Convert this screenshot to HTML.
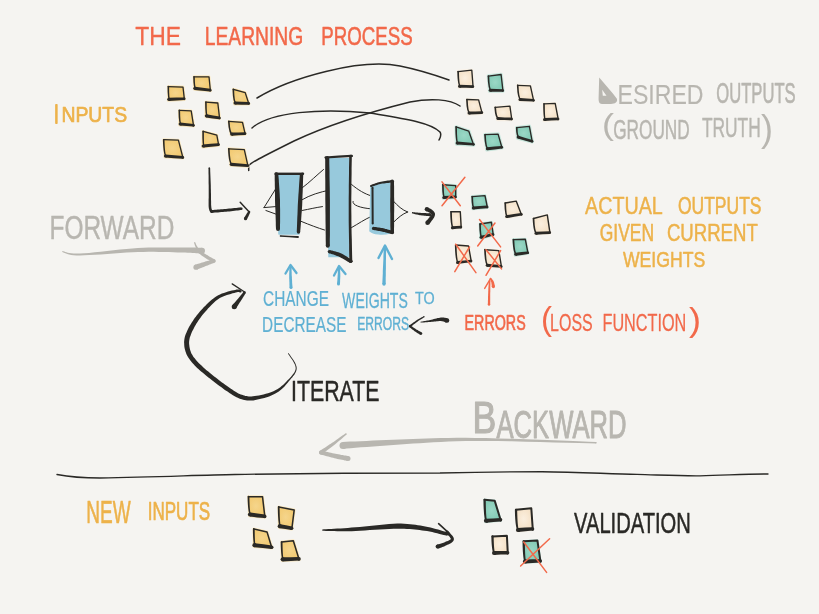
<!DOCTYPE html>
<html><head><meta charset="utf-8"><style>
html,body{margin:0;padding:0;background:#f5f4f1;}
body{width:819px;height:614px;overflow:hidden;}
svg{display:block;font-family:"Liberation Sans",sans-serif;will-change:transform;}
</style></head><body>
<svg width="819" height="614" viewBox="0 0 819 614">
<defs>
<radialGradient id="gOr" cx="0.45" cy="0.45" r="0.6"><stop offset="0" stop-color="#f5d58c"/><stop offset="1" stop-color="#f2ca72"/></radialGradient>
<radialGradient id="gTe" cx="0.45" cy="0.45" r="0.6"><stop offset="0" stop-color="#9bd8c6"/><stop offset="1" stop-color="#84cbb6"/></radialGradient>
<radialGradient id="gPe" cx="0.45" cy="0.45" r="0.6"><stop offset="0" stop-color="#fbefdf"/><stop offset="1" stop-color="#f5e2c8"/></radialGradient>
</defs>
<rect width="819" height="614" fill="#f5f4f1"/>
<text x="135.2" y="44.8" font-size="26.4" textLength="45.7" lengthAdjust="spacingAndGlyphs" fill="#f2694a" font-weight="normal" stroke="#f2694a" stroke-width="0.34" stroke-linejoin="round" >THE</text>
<text x="204.7" y="44.7" font-size="26.1" textLength="98.6" lengthAdjust="spacingAndGlyphs" fill="#f2694a" font-weight="normal" stroke="#f2694a" stroke-width="0.54" stroke-linejoin="round" >LEARNING</text>
<text x="321.3" y="44.7" font-size="26.1" textLength="91.4" lengthAdjust="spacingAndGlyphs" fill="#f2694a" font-weight="normal" stroke="#f2694a" stroke-width="0.57" stroke-linejoin="round" >PROCESS</text>
<text x="54.6" y="122.7" font-size="26.6" textLength="3.8" lengthAdjust="spacingAndGlyphs" fill="#edb24a" font-weight="normal" stroke="#edb24a" stroke-width="2.2" stroke-linejoin="round" >I</text>
<text x="61.4" y="121.6" font-size="22.2" textLength="65.7" lengthAdjust="spacingAndGlyphs" fill="#edb24a" font-weight="normal" stroke="#edb24a" stroke-width="0.71" stroke-linejoin="round" >NPUTS</text>
<path d="M257,98 C290,78 360,58 400,66 C420,70 435,75 449,80" fill="none" stroke="#2a2926" stroke-width="1.5" stroke-linecap="round" stroke-linejoin="round"/>
<path d="M252,128 C270,112 320,108 370,113 C400,118 430,122 440,132 C442,135 440,138 439,140" fill="none" stroke="#2a2926" stroke-width="1.5" stroke-linecap="round" stroke-linejoin="round"/>
<path d="M248.7,170.6 L248.7,166 C250,163 260,158 294,141 C330,124 370,112 410,102 C430,98 450,99 460,106" fill="none" stroke="#2a2926" stroke-width="1.5" stroke-linecap="round" stroke-linejoin="round"/>
<path d="M168.3,98.3 L168.3,86.6 L183.0,87.1 L184.4,99.4" fill="none" stroke="#ffffff" stroke-opacity="0.6" stroke-width="3.6" stroke-linejoin="round" stroke-linecap="round"/>
<path d="M168.3,86.6 L183.0,87.1 L184.4,99.4 L168.3,100.3Z" fill="#f3cd7b" stroke="#f3cd7b" stroke-width="3" stroke-linejoin="round" opacity="0.45"/>
<path d="M169.5,87.6 L181.9,88.0 L183.1,98.5 L169.5,99.3Z" fill="url(#gOr)" stroke="url(#gOr)" stroke-width="3" stroke-linejoin="round"/>
<path d="M168.3,86.6 L183.0,87.1 L184.4,99.4" fill="none" stroke="#2a2926" stroke-width="1.3" stroke-linecap="round" stroke-linejoin="round"/>
<path d="M168.3,86.6 Q168.3,99.3 169.8,99.8" fill="none" stroke="#2a2926" stroke-width="1.6" stroke-linecap="round" stroke-linejoin="round"/>
<path d="M168.9,100.9 L176.6,100.5 L184.3,100.1 L184.1,97.4 L176.4,97.6 L168.7,97.7Z" fill="#2a2926"/>
<circle cx="168.8" cy="99.3" r="1.60" fill="#2a2926"/>
<circle cx="184.2" cy="98.8" r="1.36" fill="#2a2926"/>
<path d="M194.4,87.3 L194.0,76.8 L209.0,76.8 L210.4,90.8" fill="none" stroke="#ffffff" stroke-opacity="0.6" stroke-width="3.6" stroke-linejoin="round" stroke-linecap="round"/>
<path d="M194.0,76.8 L209.0,76.8 L210.4,90.8 L194.4,89.3Z" fill="#f3cd7b" stroke="#f3cd7b" stroke-width="3" stroke-linejoin="round" opacity="0.45"/>
<path d="M195.2,77.8 L207.9,77.8 L209.1,89.7 L195.5,88.4Z" fill="url(#gOr)" stroke="url(#gOr)" stroke-width="3" stroke-linejoin="round"/>
<path d="M194.0,76.8 L209.0,76.8 L210.4,90.8" fill="none" stroke="#2a2926" stroke-width="1.3" stroke-linecap="round" stroke-linejoin="round"/>
<path d="M194.0,76.8 Q194.1,88.3 195.9,88.8" fill="none" stroke="#2a2926" stroke-width="1.6" stroke-linecap="round" stroke-linejoin="round"/>
<path d="M194.7,89.9 L202.4,90.7 L210.0,91.5 L210.4,88.8 L202.7,87.8 L195.1,86.8Z" fill="#2a2926"/>
<circle cx="194.9" cy="88.3" r="1.60" fill="#2a2926"/>
<circle cx="210.2" cy="90.2" r="1.36" fill="#2a2926"/>
<path d="M234.6,102.0 L233.3,89.3 L245.2,92.6 L248.9,104.0" fill="none" stroke="#ffffff" stroke-opacity="0.6" stroke-width="3.6" stroke-linejoin="round" stroke-linecap="round"/>
<path d="M233.3,89.3 L245.2,92.6 L248.9,104.0 L234.6,104.0Z" fill="#f3cd7b" stroke="#f3cd7b" stroke-width="3" stroke-linejoin="round" opacity="0.45"/>
<path d="M234.4,90.5 L244.5,93.3 L247.6,103.0 L235.4,103.0Z" fill="url(#gOr)" stroke="url(#gOr)" stroke-width="3" stroke-linejoin="round"/>
<path d="M233.3,89.3 L245.2,92.6 L248.9,104.0" fill="none" stroke="#2a2926" stroke-width="1.3" stroke-linecap="round" stroke-linejoin="round"/>
<path d="M233.3,89.3 Q233.7,103.0 236.1,103.5" fill="none" stroke="#2a2926" stroke-width="1.6" stroke-linecap="round" stroke-linejoin="round"/>
<path d="M235.0,104.6 L241.8,104.7 L248.7,104.7 L248.7,102.0 L241.9,101.7 L235.1,101.4Z" fill="#2a2926"/>
<circle cx="235.1" cy="103.0" r="1.60" fill="#2a2926"/>
<circle cx="248.7" cy="103.4" r="1.36" fill="#2a2926"/>
<path d="M205.9,114.8 L205.9,102.1 L217.8,103.0 L219.6,118.6" fill="none" stroke="#ffffff" stroke-opacity="0.6" stroke-width="3.6" stroke-linejoin="round" stroke-linecap="round"/>
<path d="M205.9,102.1 L217.8,103.0 L219.6,118.6 L205.9,116.8Z" fill="#f3cd7b" stroke="#f3cd7b" stroke-width="3" stroke-linejoin="round" opacity="0.45"/>
<path d="M206.9,103.3 L217.0,104.1 L218.5,117.3 L206.9,115.8Z" fill="url(#gOr)" stroke="url(#gOr)" stroke-width="3" stroke-linejoin="round"/>
<path d="M205.9,102.1 L217.8,103.0 L219.6,118.6" fill="none" stroke="#2a2926" stroke-width="1.3" stroke-linecap="round" stroke-linejoin="round"/>
<path d="M205.9,102.1 Q205.9,115.8 207.4,116.3" fill="none" stroke="#2a2926" stroke-width="1.6" stroke-linecap="round" stroke-linejoin="round"/>
<path d="M206.1,117.4 L212.7,118.4 L219.2,119.3 L219.6,116.6 L213.1,115.4 L206.7,114.3Z" fill="#2a2926"/>
<circle cx="206.4" cy="115.8" r="1.60" fill="#2a2926"/>
<circle cx="219.4" cy="118.0" r="1.36" fill="#2a2926"/>
<path d="M179.7,123.0 L179.3,110.4 L191.2,110.9 L193.6,125.9" fill="none" stroke="#ffffff" stroke-opacity="0.6" stroke-width="3.6" stroke-linejoin="round" stroke-linecap="round"/>
<path d="M179.3,110.4 L191.2,110.9 L193.6,125.9 L179.7,125.0Z" fill="#f3cd7b" stroke="#f3cd7b" stroke-width="3" stroke-linejoin="round" opacity="0.45"/>
<path d="M180.3,111.5 L190.4,112.0 L192.5,124.7 L180.6,124.0Z" fill="url(#gOr)" stroke="url(#gOr)" stroke-width="3" stroke-linejoin="round"/>
<path d="M179.3,110.4 L191.2,110.9 L193.6,125.9" fill="none" stroke="#2a2926" stroke-width="1.3" stroke-linecap="round" stroke-linejoin="round"/>
<path d="M179.3,110.4 Q179.4,124.0 181.2,124.5" fill="none" stroke="#2a2926" stroke-width="1.6" stroke-linecap="round" stroke-linejoin="round"/>
<path d="M180.1,125.6 L186.7,126.1 L193.3,126.6 L193.5,123.9 L186.9,123.2 L180.4,122.4Z" fill="#2a2926"/>
<circle cx="180.2" cy="124.0" r="1.60" fill="#2a2926"/>
<circle cx="193.4" cy="125.3" r="1.36" fill="#2a2926"/>
<path d="M231.2,133.1 L228.8,121.4 L242.5,122.3 L245.2,134.2" fill="none" stroke="#ffffff" stroke-opacity="0.6" stroke-width="3.6" stroke-linejoin="round" stroke-linecap="round"/>
<path d="M228.8,121.4 L242.5,122.3 L245.2,134.2 L231.2,135.1Z" fill="#f3cd7b" stroke="#f3cd7b" stroke-width="3" stroke-linejoin="round" opacity="0.45"/>
<path d="M230.0,122.4 L241.7,123.2 L244.0,133.3 L232.1,134.1Z" fill="url(#gOr)" stroke="url(#gOr)" stroke-width="3" stroke-linejoin="round"/>
<path d="M228.8,121.4 L242.5,122.3 L245.2,134.2" fill="none" stroke="#2a2926" stroke-width="1.3" stroke-linecap="round" stroke-linejoin="round"/>
<path d="M228.8,121.4 Q229.5,134.1 232.7,134.6" fill="none" stroke="#2a2926" stroke-width="1.6" stroke-linecap="round" stroke-linejoin="round"/>
<path d="M231.8,135.7 L238.4,135.3 L245.1,134.9 L244.9,132.2 L238.3,132.4 L231.7,132.5Z" fill="#2a2926"/>
<circle cx="231.7" cy="134.1" r="1.60" fill="#2a2926"/>
<circle cx="245.0" cy="133.6" r="1.36" fill="#2a2926"/>
<path d="M202.7,145.0 L203.1,131.4 L216.8,135.1 L218.7,145.2" fill="none" stroke="#ffffff" stroke-opacity="0.6" stroke-width="3.6" stroke-linejoin="round" stroke-linecap="round"/>
<path d="M203.1,131.4 L216.8,135.1 L218.7,145.2 L202.7,147.0Z" fill="#f3cd7b" stroke="#f3cd7b" stroke-width="3" stroke-linejoin="round" opacity="0.45"/>
<path d="M204.2,132.6 L215.8,135.8 L217.4,144.4 L203.8,145.9Z" fill="url(#gOr)" stroke="url(#gOr)" stroke-width="3" stroke-linejoin="round"/>
<path d="M203.1,131.4 L216.8,135.1 L218.7,145.2" fill="none" stroke="#2a2926" stroke-width="1.3" stroke-linecap="round" stroke-linejoin="round"/>
<path d="M203.1,131.4 Q203.0,146.0 204.2,146.5" fill="none" stroke="#2a2926" stroke-width="1.6" stroke-linecap="round" stroke-linejoin="round"/>
<path d="M203.3,147.6 L211.0,146.8 L218.6,145.9 L218.4,143.2 L210.7,143.8 L203.0,144.4Z" fill="#2a2926"/>
<circle cx="203.2" cy="146.0" r="1.60" fill="#2a2926"/>
<circle cx="218.5" cy="144.6" r="1.36" fill="#2a2926"/>
<path d="M165.0,155.0 L163.7,139.7 L178.4,140.2 L183.0,158.0" fill="none" stroke="#ffffff" stroke-opacity="0.6" stroke-width="3.6" stroke-linejoin="round" stroke-linecap="round"/>
<path d="M163.7,139.7 L178.4,140.2 L183.0,158.0 L165.0,157.0Z" fill="#f3cd7b" stroke="#f3cd7b" stroke-width="3" stroke-linejoin="round" opacity="0.45"/>
<path d="M165.0,141.1 L177.5,141.5 L181.4,156.6 L166.1,155.8Z" fill="url(#gOr)" stroke="url(#gOr)" stroke-width="3" stroke-linejoin="round"/>
<path d="M163.7,139.7 L178.4,140.2 L183.0,158.0" fill="none" stroke="#2a2926" stroke-width="1.3" stroke-linecap="round" stroke-linejoin="round"/>
<path d="M163.7,139.7 Q164.1,156.0 166.5,156.5" fill="none" stroke="#2a2926" stroke-width="1.6" stroke-linecap="round" stroke-linejoin="round"/>
<path d="M165.3,157.6 L174.0,158.2 L182.7,158.7 L182.9,156.0 L174.2,155.2 L165.6,154.4Z" fill="#2a2926"/>
<circle cx="165.5" cy="156.0" r="1.60" fill="#2a2926"/>
<circle cx="182.8" cy="157.4" r="1.36" fill="#2a2926"/>
<path d="M230.8,163.3 L228.8,148.8 L244.3,149.7 L248.0,166.2" fill="none" stroke="#ffffff" stroke-opacity="0.6" stroke-width="3.6" stroke-linejoin="round" stroke-linecap="round"/>
<path d="M228.8,148.8 L244.3,149.7 L248.0,166.2 L230.8,165.3Z" fill="#f3cd7b" stroke="#f3cd7b" stroke-width="3" stroke-linejoin="round" opacity="0.45"/>
<path d="M230.2,150.1 L243.4,150.9 L246.5,164.9 L231.9,164.1Z" fill="url(#gOr)" stroke="url(#gOr)" stroke-width="3" stroke-linejoin="round"/>
<path d="M228.8,148.8 L244.3,149.7 L248.0,166.2" fill="none" stroke="#2a2926" stroke-width="1.3" stroke-linecap="round" stroke-linejoin="round"/>
<path d="M228.8,148.8 Q229.4,164.3 232.3,164.8" fill="none" stroke="#2a2926" stroke-width="1.6" stroke-linecap="round" stroke-linejoin="round"/>
<path d="M231.2,165.9 L239.5,166.4 L247.7,166.9 L247.9,164.2 L239.7,163.5 L231.4,162.7Z" fill="#2a2926"/>
<circle cx="231.3" cy="164.3" r="1.60" fill="#2a2926"/>
<circle cx="247.8" cy="165.6" r="1.36" fill="#2a2926"/>
<path d="M459.0,85.2 L458.1,71.6 L471.8,70.2 L473.1,87.2" fill="none" stroke="#ffffff" stroke-opacity="0.6" stroke-width="3.6" stroke-linejoin="round" stroke-linecap="round"/>
<path d="M458.1,71.6 L471.8,70.2 L473.1,87.2 L459.0,87.2Z" fill="#f8e8d2" stroke="#f8e8d2" stroke-width="3.5" stroke-linejoin="round" opacity="0.45"/>
<path d="M459.6,73.1 L470.5,72.0 L471.6,85.6 L460.3,85.6Z" fill="url(#gPe)" stroke="url(#gPe)" stroke-width="3" stroke-linejoin="round"/>
<path d="M458.1,71.6 L471.8,70.2 L473.1,87.2" fill="none" stroke="#2a2926" stroke-width="1.35" stroke-linecap="round" stroke-linejoin="round"/>
<path d="M458.1,71.6 Q458.4,86.2 460.5,86.7" fill="none" stroke="#2a2926" stroke-width="1.6500000000000001" stroke-linecap="round" stroke-linejoin="round"/>
<path d="M459.4,87.8 L466.1,87.8 L472.9,87.9 L472.9,85.3 L466.2,85.1 L459.5,84.8Z" fill="#2a2926"/>
<circle cx="459.5" cy="86.3" r="1.50" fill="#2a2926"/>
<circle cx="472.9" cy="86.6" r="1.27" fill="#2a2926"/>
<path d="M489.7,89.1 L488.4,76.1 L501.1,74.5 L503.0,91.1" fill="none" stroke="#ffffff" stroke-opacity="0.6" stroke-width="3.6" stroke-linejoin="round" stroke-linecap="round"/>
<path d="M488.4,76.1 L501.1,74.5 L503.0,91.1 L489.7,91.1Z" fill="#8dd0bd" stroke="#8dd0bd" stroke-width="3.5" stroke-linejoin="round" opacity="0.45"/>
<path d="M489.8,77.5 L500.0,76.2 L501.5,89.5 L490.9,89.5Z" fill="url(#gTe)" stroke="url(#gTe)" stroke-width="3" stroke-linejoin="round"/>
<path d="M488.4,76.1 L501.1,74.5 L503.0,91.1" fill="none" stroke="#2a2926" stroke-width="1.35" stroke-linecap="round" stroke-linejoin="round"/>
<path d="M488.4,76.1 Q488.8,90.1 491.2,90.6" fill="none" stroke="#2a2926" stroke-width="1.6500000000000001" stroke-linecap="round" stroke-linejoin="round"/>
<path d="M490.2,91.7 L496.5,91.7 L502.8,91.8 L502.8,89.2 L496.5,89.0 L490.2,88.7Z" fill="#2a2926"/>
<circle cx="490.2" cy="90.2" r="1.50" fill="#2a2926"/>
<circle cx="502.8" cy="90.5" r="1.27" fill="#2a2926"/>
<path d="M519.5,98.3 L517.7,85.3 L530.4,85.9 L533.7,100.9" fill="none" stroke="#ffffff" stroke-opacity="0.6" stroke-width="3.6" stroke-linejoin="round" stroke-linecap="round"/>
<path d="M517.7,85.3 L530.4,85.9 L533.7,100.9 L519.5,100.3Z" fill="#f8e8d2" stroke="#f8e8d2" stroke-width="3.5" stroke-linejoin="round" opacity="0.45"/>
<path d="M519.2,86.9 L529.4,87.3 L532.0,99.3 L520.6,98.9Z" fill="url(#gPe)" stroke="url(#gPe)" stroke-width="3" stroke-linejoin="round"/>
<path d="M517.7,85.3 L530.4,85.9 L533.7,100.9" fill="none" stroke="#2a2926" stroke-width="1.35" stroke-linecap="round" stroke-linejoin="round"/>
<path d="M517.7,85.3 Q518.2,99.3 521.0,99.8" fill="none" stroke="#2a2926" stroke-width="1.6500000000000001" stroke-linecap="round" stroke-linejoin="round"/>
<path d="M519.9,100.9 L526.6,101.2 L533.4,101.6 L533.6,99.0 L526.8,98.5 L520.1,97.9Z" fill="#2a2926"/>
<circle cx="520.0" cy="99.4" r="1.50" fill="#2a2926"/>
<circle cx="533.5" cy="100.3" r="1.27" fill="#2a2926"/>
<path d="M468.5,112.0 L466.9,99.5 L478.6,99.9 L482.1,113.2" fill="none" stroke="#ffffff" stroke-opacity="0.6" stroke-width="3.6" stroke-linejoin="round" stroke-linecap="round"/>
<path d="M466.9,99.5 L478.6,99.9 L482.1,113.2 L468.5,114.0Z" fill="#f8e8d2" stroke="#f8e8d2" stroke-width="3.5" stroke-linejoin="round" opacity="0.45"/>
<path d="M468.3,100.9 L477.7,101.2 L480.5,111.9 L469.6,112.5Z" fill="url(#gPe)" stroke="url(#gPe)" stroke-width="3" stroke-linejoin="round"/>
<path d="M466.9,99.5 L478.6,99.9 L482.1,113.2" fill="none" stroke="#2a2926" stroke-width="1.35" stroke-linecap="round" stroke-linejoin="round"/>
<path d="M466.9,99.5 Q467.4,113.0 470.0,113.5" fill="none" stroke="#2a2926" stroke-width="1.6500000000000001" stroke-linecap="round" stroke-linejoin="round"/>
<path d="M469.0,114.6 L475.5,114.2 L481.9,113.9 L481.9,111.3 L475.4,111.5 L468.9,111.6Z" fill="#2a2926"/>
<circle cx="469.0" cy="113.1" r="1.50" fill="#2a2926"/>
<circle cx="481.9" cy="112.6" r="1.27" fill="#2a2926"/>
<path d="M497.4,117.5 L495.2,107.4 L509.9,106.2 L511.8,119.5" fill="none" stroke="#ffffff" stroke-opacity="0.6" stroke-width="3.6" stroke-linejoin="round" stroke-linecap="round"/>
<path d="M495.2,107.4 L509.9,106.2 L511.8,119.5 L497.4,119.5Z" fill="#f8e8d2" stroke="#f8e8d2" stroke-width="3.5" stroke-linejoin="round" opacity="0.45"/>
<path d="M496.9,108.6 L508.6,107.6 L510.2,118.2 L498.6,118.2Z" fill="url(#gPe)" stroke="url(#gPe)" stroke-width="3" stroke-linejoin="round"/>
<path d="M495.2,107.4 L509.9,106.2 L511.8,119.5" fill="none" stroke="#2a2926" stroke-width="1.35" stroke-linecap="round" stroke-linejoin="round"/>
<path d="M495.2,107.4 Q495.9,118.5 498.9,119.0" fill="none" stroke="#2a2926" stroke-width="1.6500000000000001" stroke-linecap="round" stroke-linejoin="round"/>
<path d="M497.9,120.1 L504.7,120.1 L511.6,120.2 L511.6,117.6 L504.8,117.4 L497.9,117.1Z" fill="#2a2926"/>
<circle cx="497.9" cy="118.6" r="1.50" fill="#2a2926"/>
<circle cx="511.6" cy="118.9" r="1.27" fill="#2a2926"/>
<path d="M544.0,118.4 L544.0,103.8 L555.2,103.4 L558.3,119.5" fill="none" stroke="#ffffff" stroke-opacity="0.6" stroke-width="3.6" stroke-linejoin="round" stroke-linecap="round"/>
<path d="M544.0,103.8 L555.2,103.4 L558.3,119.5 L544.0,120.4Z" fill="#f8e8d2" stroke="#f8e8d2" stroke-width="3.5" stroke-linejoin="round" opacity="0.45"/>
<path d="M545.3,105.4 L554.2,105.1 L556.7,118.0 L545.3,118.7Z" fill="url(#gPe)" stroke="url(#gPe)" stroke-width="3" stroke-linejoin="round"/>
<path d="M544.0,103.8 L555.2,103.4 L558.3,119.5" fill="none" stroke="#2a2926" stroke-width="1.35" stroke-linecap="round" stroke-linejoin="round"/>
<path d="M544.0,103.8 Q544.0,119.4 545.5,119.9" fill="none" stroke="#2a2926" stroke-width="1.6500000000000001" stroke-linecap="round" stroke-linejoin="round"/>
<path d="M544.6,121.0 L551.4,120.6 L558.2,120.2 L558.0,117.6 L551.2,117.8 L544.4,118.0Z" fill="#2a2926"/>
<circle cx="544.5" cy="119.5" r="1.50" fill="#2a2926"/>
<circle cx="558.1" cy="118.9" r="1.27" fill="#2a2926"/>
<path d="M456.6,141.9 L456.1,126.9 L468.8,131.2 L473.7,144.9" fill="none" stroke="#ffffff" stroke-opacity="0.6" stroke-width="3.6" stroke-linejoin="round" stroke-linecap="round"/>
<path d="M456.1,126.9 L468.8,131.2 L473.7,144.9 L456.6,143.9Z" fill="#8dd0bd" stroke="#8dd0bd" stroke-width="3.5" stroke-linejoin="round" opacity="0.45"/>
<path d="M457.6,128.9 L467.8,132.3 L471.7,143.3 L458.0,142.5Z" fill="url(#gTe)" stroke="url(#gTe)" stroke-width="3" stroke-linejoin="round"/>
<path d="M456.1,126.9 L468.8,131.2 L473.7,144.9" fill="none" stroke="#2a2926" stroke-width="1.35" stroke-linecap="round" stroke-linejoin="round"/>
<path d="M456.1,126.9 Q456.2,142.9 458.1,143.4" fill="none" stroke="#2a2926" stroke-width="1.6500000000000001" stroke-linecap="round" stroke-linejoin="round"/>
<path d="M456.9,144.5 L465.2,145.0 L473.4,145.6 L473.6,143.0 L465.4,142.3 L457.2,141.5Z" fill="#2a2926"/>
<circle cx="457.1" cy="143.0" r="1.50" fill="#2a2926"/>
<circle cx="473.5" cy="144.3" r="1.27" fill="#2a2926"/>
<path d="M486.9,147.7 L485.0,134.7 L498.1,134.1 L502.0,147.8" fill="none" stroke="#ffffff" stroke-opacity="0.6" stroke-width="3.6" stroke-linejoin="round" stroke-linecap="round"/>
<path d="M485.0,134.7 L498.1,134.1 L502.0,147.8 L486.9,149.7Z" fill="#8dd0bd" stroke="#8dd0bd" stroke-width="3.5" stroke-linejoin="round" opacity="0.45"/>
<path d="M486.6,136.1 L497.1,135.6 L500.2,146.6 L488.1,148.1Z" fill="url(#gTe)" stroke="url(#gTe)" stroke-width="3" stroke-linejoin="round"/>
<path d="M485.0,134.7 L498.1,134.1 L502.0,147.8" fill="none" stroke="#2a2926" stroke-width="1.35" stroke-linecap="round" stroke-linejoin="round"/>
<path d="M485.0,134.7 Q485.6,148.7 488.4,149.2" fill="none" stroke="#2a2926" stroke-width="1.6500000000000001" stroke-linecap="round" stroke-linejoin="round"/>
<path d="M487.6,150.3 L494.8,149.4 L501.9,148.5 L501.7,145.9 L494.5,146.6 L487.3,147.3Z" fill="#2a2926"/>
<circle cx="487.4" cy="148.8" r="1.50" fill="#2a2926"/>
<circle cx="501.8" cy="147.2" r="1.27" fill="#2a2926"/>
<path d="M517.6,136.0 L516.7,127.7 L529.4,126.3 L532.3,141.9" fill="none" stroke="#ffffff" stroke-opacity="0.6" stroke-width="3.6" stroke-linejoin="round" stroke-linecap="round"/>
<path d="M516.7,127.7 L529.4,126.3 L532.3,141.9 L517.6,138.0Z" fill="#8dd0bd" stroke="#8dd0bd" stroke-width="3.5" stroke-linejoin="round" opacity="0.45"/>
<path d="M518.2,128.9 L528.3,127.7 L530.6,140.2 L518.9,137.1Z" fill="url(#gTe)" stroke="url(#gTe)" stroke-width="3" stroke-linejoin="round"/>
<path d="M516.7,127.7 L529.4,126.3 L532.3,141.9" fill="none" stroke="#2a2926" stroke-width="1.35" stroke-linecap="round" stroke-linejoin="round"/>
<path d="M516.7,127.7 Q517.0,137.0 519.1,137.5" fill="none" stroke="#2a2926" stroke-width="1.6500000000000001" stroke-linecap="round" stroke-linejoin="round"/>
<path d="M517.7,138.5 L524.7,140.5 L531.7,142.5 L532.5,140.1 L525.5,137.9 L518.5,135.7Z" fill="#2a2926"/>
<circle cx="518.1" cy="137.1" r="1.50" fill="#2a2926"/>
<circle cx="532.1" cy="141.3" r="1.27" fill="#2a2926"/>
<path d="M599.2,77.4 C605,84 612,92 616.9,98.8 C618,102 615,104 611,104 L602,104 C599,104 598.5,101 598.6,98 Z M602.2,89.7 L606.5,95.8 L602.8,95.8 Z" fill="#b8b6b0" fill-rule="evenodd"/>
<text x="617.6" y="103.6" font-size="28.1" textLength="85.9" lengthAdjust="spacingAndGlyphs" fill="#b8b6b0" font-weight="normal" stroke="#b8b6b0" stroke-width="0.15" stroke-linejoin="round" >ESIRED</text>
<text x="716.3" y="103.4" font-size="29.6" textLength="79.4" lengthAdjust="spacingAndGlyphs" fill="#b8b6b0" font-weight="normal" stroke="#b8b6b0" stroke-width="0.63" stroke-linejoin="round" >OUTPUTS</text>
<text x="602.0" y="135.1" font-size="28.6" textLength="12.0" lengthAdjust="spacingAndGlyphs" fill="#b8b6b0" font-weight="normal" >(</text>
<text x="613.2" y="139.3" font-size="28.4" textLength="76.5" lengthAdjust="spacingAndGlyphs" fill="#b8b6b0" font-weight="normal" stroke="#b8b6b0" stroke-width="0.47" stroke-linejoin="round" >GROUND</text>
<text x="701.9" y="137.3" font-size="27.7" textLength="58.8" lengthAdjust="spacingAndGlyphs" fill="#b8b6b0" font-weight="normal" stroke="#b8b6b0" stroke-width="0.46" stroke-linejoin="round" >TRUTH</text>
<text x="761.0" y="141.3" font-size="37.2" textLength="12.0" lengthAdjust="spacingAndGlyphs" fill="#b8b6b0" font-weight="normal" >)</text>
<path d="M208.5,168.0 L208.5,169.4 L208.5,171.1 L208.5,173.2 L208.6,175.5 L208.6,178.0 L208.6,180.5 L208.6,183.1 L208.7,185.6 L208.7,187.9 L208.7,190.0 L208.7,192.0 L208.7,193.9 L208.7,195.9 L208.7,197.8 L208.6,199.6 L208.6,201.3 L208.6,203.0 L208.6,204.5 L208.6,205.9 L208.7,207.1 L208.8,208.2 L209.0,209.1 L209.2,209.8 L209.4,210.4 L209.6,211.0 L209.9,211.4 L210.1,211.7 L210.2,211.9 L210.3,212.0 L210.3,212.1 L212.9,210.9 L212.7,210.6 L212.5,210.3 L212.3,210.0 L212.1,209.9 L212.0,209.7 L211.8,209.4 L211.7,209.0 L211.5,208.5 L211.4,207.8 L211.3,206.9 L211.2,205.8 L211.1,204.4 L211.1,203.0 L211.1,201.3 L211.0,199.6 L211.0,197.8 L211.0,195.9 L211.0,193.9 L210.9,191.9 L210.9,190.0 L210.8,187.9 L210.8,185.5 L210.7,183.1 L210.6,180.5 L210.5,177.9 L210.4,175.4 L210.3,173.1 L210.2,171.1 L210.2,169.3 L210.1,168.0Z" fill="#2a2926"/>
<circle cx="209.3" cy="168.0" r="0.80" fill="#2a2926"/>
<circle cx="211.6" cy="211.5" r="1.40" fill="#2a2926"/>
<path d="M211.7,212.9 L212.6,212.8 L213.7,212.7 L214.9,212.6 L216.4,212.5 L218.0,212.4 L219.6,212.3 L221.3,212.1 L223.0,212.0 L224.6,211.8 L226.1,211.7 L227.7,211.5 L229.4,211.4 L231.1,211.2 L232.9,211.0 L234.7,210.8 L236.4,210.6 L237.9,210.4 L239.3,210.2 L240.5,210.1 L241.4,210.0 L241.2,207.4 L240.2,207.5 L239.1,207.6 L237.7,207.8 L236.1,207.9 L234.4,208.1 L232.6,208.3 L230.9,208.4 L229.1,208.6 L227.4,208.8 L225.9,208.9 L224.3,209.0 L222.7,209.2 L221.0,209.3 L219.4,209.5 L217.7,209.6 L216.2,209.7 L214.7,209.8 L213.4,209.9 L212.3,210.0 L211.5,210.1Z" fill="#2a2926"/>
<circle cx="211.6" cy="211.5" r="1.40" fill="#2a2926"/>
<circle cx="241.3" cy="208.7" r="1.30" fill="#2a2926"/>
<path d="M240.2,202.3 L249.2,211.9" fill="none" stroke="#2a2926" stroke-width="1.5" stroke-linecap="round" stroke-linejoin="round"/>
<path d="M248.2,211.4 L248.1,211.5 L248.0,211.8 L247.8,212.0 L247.6,212.3 L247.4,212.6 L247.2,213.0 L246.9,213.3 L246.7,213.6 L246.5,214.0 L246.3,214.3 L246.1,214.7 L245.8,215.1 L245.6,215.5 L245.3,215.9 L245.1,216.3 L244.8,216.7 L244.6,217.1 L244.4,217.4 L244.2,217.7 L244.1,217.9 L246.9,219.5 L247.0,219.2 L247.1,218.9 L247.3,218.6 L247.5,218.2 L247.7,217.8 L247.9,217.3 L248.1,216.9 L248.4,216.4 L248.6,216.0 L248.7,215.7 L248.9,215.3 L249.1,214.9 L249.2,214.6 L249.4,214.2 L249.6,213.8 L249.7,213.5 L249.9,213.2 L250.0,212.9 L250.1,212.6 L250.2,212.4Z" fill="#2a2926"/>
<circle cx="249.2" cy="211.9" r="1.10" fill="#2a2926"/>
<circle cx="245.5" cy="218.7" r="1.60" fill="#2a2926"/>
<path d="M264,207.6 L275.6,189 M264,207.6 L275.6,206.6 M265.9,210.5 L275.6,214" fill="none" stroke="#2a2926" stroke-width="1.0" stroke-linecap="round" stroke-linejoin="round"/>
<path d="M302,188 C310,182 318,174 323.5,169.5 M302,199.8 C310,195 320,192 330,190 M302,210.5 C310,209 316,207.5 322.5,206.6 M301,221.3 C310,225 318,228 324.5,230" fill="none" stroke="#2a2926" stroke-width="1.0" stroke-linecap="round" stroke-linejoin="round"/>
<path d="M351.5,184.4 C358,190 365,194 371,195.8 M353,201.5 C352,205 360,208 371.9,208.9 M351.5,227.6 C358,224 365,219 371.9,216.2" fill="none" stroke="#2a2926" stroke-width="1.0" stroke-linecap="round" stroke-linejoin="round"/>
<path d="M393,200.7 C398,206 402,210 407.7,212 M393.9,221.9 C398,218 402,214 407.7,212" fill="none" stroke="#2a2926" stroke-width="1.0" stroke-linecap="round" stroke-linejoin="round"/>
<path d="M277.6,175 L299,175 L299,234 L279,234 Z" fill="#97c9dc" stroke="#97c9dc" stroke-width="1.5" stroke-linejoin="round"/>
<path d="M327.4,158.8 L348.9,158.8 L348.9,256.4 L329,256.4 Z" fill="#97c9dc" stroke="#97c9dc" stroke-width="1.5"/>
<path d="M371,187 C377,184 385,182 389.8,182 L389.8,233 C383,235 373,234 370,231 Z" fill="#97c9dc" stroke="#97c9dc" stroke-width="1.5"/>
<path d="M275.6,175.0 L289.3,175.0 L303.0,175.0 L303.0,172.6 L289.3,172.6 L275.6,172.6Z" fill="#2a2926"/>
<circle cx="275.6" cy="173.8" r="1.20" fill="#2a2926"/>
<circle cx="303.0" cy="173.8" r="1.20" fill="#2a2926"/>
<path d="M274.7,174.1 L274.7,175.6 L274.7,177.6 L274.7,179.9 L274.8,182.5 L274.8,185.3 L274.9,188.2 L274.9,191.2 L275.0,194.3 L275.0,197.2 L275.0,200.1 L275.1,203.0 L275.2,206.1 L275.4,209.4 L275.5,212.8 L275.6,216.2 L275.7,219.4 L275.8,222.4 L275.8,225.0 L275.9,227.3 L276.0,229.0 L280.0,229.0 L280.0,227.2 L280.0,225.0 L280.1,222.3 L280.1,219.3 L280.1,216.1 L280.1,212.7 L280.1,209.4 L280.0,206.0 L280.0,202.9 L280.0,199.9 L279.8,197.1 L279.7,194.1 L279.5,191.1 L279.3,188.0 L279.1,185.1 L278.9,182.3 L278.8,179.7 L278.6,177.4 L278.4,175.5 L278.3,173.9Z" fill="#2a2926"/>
<circle cx="276.5" cy="174.0" r="1.80" fill="#2a2926"/>
<circle cx="278.0" cy="229.0" r="2.00" fill="#2a2926"/>
<path d="M299.8,174.3 L299.7,176.2 L299.5,178.5 L299.3,181.4 L299.1,184.5 L298.9,187.9 L298.7,191.5 L298.4,195.0 L298.2,198.5 L298.0,201.8 L297.8,204.9 L297.7,207.9 L297.6,210.9 L297.5,214.1 L297.3,217.2 L297.2,220.3 L297.1,223.2 L297.0,225.9 L296.9,228.3 L296.8,230.3 L296.8,231.9 L300.2,232.1 L300.3,230.5 L300.5,228.5 L300.7,226.1 L300.9,223.4 L301.1,220.5 L301.3,217.5 L301.5,214.3 L301.8,211.2 L302.0,208.1 L302.2,205.1 L302.3,202.1 L302.4,198.7 L302.5,195.2 L302.7,191.6 L302.8,188.1 L302.9,184.7 L303.0,181.5 L303.1,178.7 L303.2,176.3 L303.2,174.5Z" fill="#2a2926"/>
<circle cx="301.5" cy="174.4" r="1.70" fill="#2a2926"/>
<circle cx="298.5" cy="232.0" r="1.70" fill="#2a2926"/>
<path d="M280.5,236.8 L289.2,237.3 L297.9,237.9 L298.1,236.1 L289.3,235.7 L280.5,235.2Z" fill="#2a2926"/>
<circle cx="280.5" cy="236.0" r="0.80" fill="#2a2926"/>
<circle cx="298.0" cy="237.0" r="0.90" fill="#2a2926"/>
<path d="M325.5,158.4 L338.7,157.7 L351.9,157.1 L351.7,154.7 L338.5,155.6 L325.3,156.4Z" fill="#2a2926"/>
<circle cx="325.4" cy="157.4" r="1.00" fill="#2a2926"/>
<circle cx="351.8" cy="155.9" r="1.20" fill="#2a2926"/>
<path d="M325.2,158.0 L325.2,160.5 L325.2,163.7 L325.2,167.4 L325.2,171.6 L325.2,176.2 L325.3,180.9 L325.3,185.8 L325.3,190.7 L325.3,195.5 L325.3,200.0 L325.4,204.6 L325.4,209.6 L325.5,214.9 L325.5,220.2 L325.6,225.5 L325.6,230.5 L325.7,235.2 L325.7,239.4 L325.8,243.0 L325.8,245.7 L329.8,245.7 L329.8,243.0 L329.8,239.4 L329.9,235.2 L329.9,230.5 L329.9,225.5 L329.9,220.2 L329.9,214.9 L329.9,209.6 L329.9,204.6 L329.9,200.0 L329.8,195.4 L329.8,190.7 L329.7,185.8 L329.6,180.9 L329.5,176.1 L329.5,171.6 L329.4,167.4 L329.3,163.6 L329.3,160.5 L329.2,158.0Z" fill="#2a2926"/>
<circle cx="327.2" cy="158.0" r="2.00" fill="#2a2926"/>
<circle cx="327.8" cy="245.7" r="2.00" fill="#2a2926"/>
<path d="M349.2,156.0 L349.2,159.2 L349.1,163.4 L349.0,168.3 L349.0,173.8 L348.9,179.8 L348.8,186.0 L348.8,192.3 L348.7,198.5 L348.7,204.5 L348.7,210.0 L348.7,215.5 L348.7,221.3 L348.8,227.2 L348.9,233.2 L349.0,239.1 L349.1,244.6 L349.1,249.8 L349.2,254.4 L349.3,258.3 L349.3,261.3 L352.3,261.3 L352.2,258.2 L352.1,254.3 L352.0,249.7 L351.9,244.6 L351.8,239.0 L351.6,233.2 L351.5,227.2 L351.4,221.2 L351.4,215.5 L351.3,210.0 L351.3,204.5 L351.3,198.5 L351.4,192.3 L351.4,186.0 L351.5,179.8 L351.6,173.9 L351.6,168.3 L351.7,163.4 L351.8,159.2 L351.8,156.0Z" fill="#2a2926"/>
<circle cx="350.5" cy="156.0" r="1.30" fill="#2a2926"/>
<circle cx="350.8" cy="261.3" r="1.50" fill="#2a2926"/>
<path d="M328.8,253.1 L329.5,253.4 L330.3,253.6 L331.3,253.9 L332.3,254.3 L333.5,254.6 L334.7,255.0 L335.9,255.4 L337.0,255.9 L338.2,256.3 L339.2,256.8 L340.2,257.3 L341.4,257.9 L342.6,258.6 L343.8,259.3 L345.1,260.0 L346.3,260.7 L347.4,261.4 L348.4,262.0 L349.2,262.5 L349.9,262.8 L351.7,259.8 L351.1,259.4 L350.3,258.8 L349.3,258.2 L348.2,257.5 L347.1,256.7 L345.8,256.0 L344.5,255.2 L343.3,254.5 L342.0,253.8 L340.8,253.2 L339.6,252.7 L338.3,252.3 L337.0,251.9 L335.7,251.5 L334.5,251.2 L333.3,250.9 L332.2,250.6 L331.2,250.4 L330.4,250.2 L329.8,250.1Z" fill="#2a2926"/>
<circle cx="329.3" cy="251.6" r="1.60" fill="#2a2926"/>
<circle cx="350.8" cy="261.3" r="1.80" fill="#2a2926"/>
<path d="M371.3,186.9 L371.9,186.8 L372.5,186.5 L373.3,186.2 L374.1,185.9 L375.1,185.6 L376.1,185.2 L377.1,184.9 L378.1,184.5 L379.2,184.2 L380.2,184.0 L381.3,183.8 L382.6,183.6 L384.0,183.4 L385.4,183.2 L386.8,183.0 L388.2,182.9 L389.5,182.7 L390.6,182.6 L391.6,182.5 L392.4,182.4 L392.0,180.0 L391.3,180.1 L390.3,180.2 L389.2,180.4 L387.9,180.6 L386.5,180.8 L385.1,181.0 L383.6,181.3 L382.3,181.5 L381.0,181.8 L379.8,182.0 L378.7,182.3 L377.6,182.6 L376.5,183.0 L375.4,183.3 L374.4,183.7 L373.4,184.0 L372.6,184.3 L371.8,184.6 L371.2,184.9 L370.7,185.1Z" fill="#2a2926"/>
<circle cx="371.0" cy="186.0" r="1.00" fill="#2a2926"/>
<circle cx="392.2" cy="181.2" r="1.25" fill="#2a2926"/>
<path d="M371.5,187.7 L371.6,205.6 L371.7,223.5 L373.7,223.5 L373.6,205.6 L373.5,187.7Z" fill="#2a2926"/>
<circle cx="372.5" cy="187.7" r="1.00" fill="#2a2926"/>
<circle cx="372.7" cy="223.5" r="1.00" fill="#2a2926"/>
<path d="M390.4,181.2 L390.4,182.6 L390.4,184.4 L390.3,186.5 L390.3,188.8 L390.3,191.4 L390.3,194.1 L390.3,196.8 L390.2,199.6 L390.2,202.4 L390.2,205.0 L390.2,207.7 L390.2,210.7 L390.3,213.8 L390.3,217.1 L390.3,220.2 L390.3,223.3 L390.3,226.2 L390.4,228.7 L390.4,230.8 L390.4,232.5 L394.0,232.5 L394.0,230.8 L394.0,228.7 L394.1,226.2 L394.1,223.3 L394.1,220.2 L394.1,217.1 L394.1,213.8 L394.2,210.7 L394.2,207.7 L394.2,205.0 L394.2,202.4 L394.2,199.6 L394.1,196.8 L394.1,194.1 L394.1,191.4 L394.1,188.8 L394.1,186.5 L394.0,184.4 L394.0,182.6 L394.0,181.2Z" fill="#2a2926"/>
<circle cx="392.2" cy="181.2" r="1.80" fill="#2a2926"/>
<circle cx="392.2" cy="232.5" r="1.80" fill="#2a2926"/>
<path d="M373.2,230.0 L373.8,230.1 L374.6,230.2 L375.4,230.3 L376.4,230.5 L377.4,230.7 L378.5,230.9 L379.6,231.0 L380.7,231.2 L381.7,231.5 L382.6,231.7 L383.6,231.9 L384.6,232.1 L385.6,232.4 L386.7,232.7 L387.7,232.9 L388.7,233.2 L389.7,233.5 L390.5,233.7 L391.2,233.9 L391.8,234.0 L392.6,231.0 L392.1,230.8 L391.4,230.6 L390.6,230.3 L389.6,230.1 L388.6,229.8 L387.6,229.5 L386.5,229.1 L385.4,228.9 L384.4,228.6 L383.4,228.3 L382.3,228.1 L381.3,227.9 L380.2,227.8 L379.0,227.6 L377.9,227.4 L376.9,227.3 L375.9,227.1 L375.0,227.0 L374.3,226.9 L373.8,226.8Z" fill="#2a2926"/>
<circle cx="373.5" cy="228.4" r="1.60" fill="#2a2926"/>
<circle cx="392.2" cy="232.5" r="1.60" fill="#2a2926"/>
<path d="M411.9,213.3 L412.4,213.4 L412.9,213.6 L413.6,213.8 L414.4,214.0 L415.2,214.2 L416.1,214.4 L417.0,214.6 L418.0,214.8 L418.9,215.0 L419.9,215.2 L420.8,215.3 L421.9,215.5 L423.1,215.6 L424.2,215.7 L425.4,215.8 L426.5,215.9 L427.6,216.0 L428.5,216.1 L429.3,216.2 L429.9,216.3 L430.1,213.3 L429.5,213.3 L428.7,213.3 L427.8,213.2 L426.7,213.2 L425.6,213.1 L424.4,213.1 L423.3,213.0 L422.1,212.9 L421.1,212.9 L420.1,212.8 L419.2,212.8 L418.3,212.7 L417.4,212.6 L416.4,212.5 L415.5,212.4 L414.7,212.3 L413.9,212.2 L413.2,212.2 L412.6,212.1 L412.1,212.1Z" fill="#2a2926"/>
<circle cx="430.0" cy="214.8" r="1.50" fill="#2a2926"/>
<path d="M425.8,211.1 L426.2,211.2 L426.6,211.4 L427.1,211.6 L427.6,211.8 L428.2,212.1 L428.7,212.3 L429.2,212.6 L429.6,212.8 L430.0,213.0 L430.2,213.2 L430.5,213.5 L430.8,213.7 L431.0,214.0 L431.2,214.1 L431.3,214.3 L431.3,214.4 L431.4,214.4 L431.4,214.5 L431.4,214.6 L431.3,214.9 L431.1,215.2 L430.7,215.8 L430.1,216.5 L429.5,217.3 L428.8,218.1 L428.1,218.9 L427.4,219.7 L426.7,220.4 L426.2,221.0 L425.8,221.4 L429.2,224.2 L429.5,223.7 L430.0,223.1 L430.6,222.4 L431.2,221.5 L431.9,220.6 L432.6,219.7 L433.2,218.8 L433.8,217.9 L434.3,217.0 L434.7,216.1 L434.9,215.3 L435.0,214.5 L435.0,213.8 L434.8,213.1 L434.5,212.4 L434.2,211.9 L433.8,211.5 L433.5,211.1 L433.1,210.8 L432.8,210.4 L432.3,210.0 L431.7,209.5 L431.2,209.2 L430.5,208.8 L429.9,208.5 L429.4,208.2 L428.8,207.9 L428.4,207.7 L428.0,207.5 L427.8,207.3Z" fill="#2a2926"/>
<circle cx="426.8" cy="209.2" r="2.10" fill="#2a2926"/>
<circle cx="427.5" cy="222.8" r="2.20" fill="#2a2926"/>
<path d="M443.3,196.4 L442.9,184.7 L455.7,185.6 L455.7,197.5" fill="none" stroke="#ffffff" stroke-opacity="0.6" stroke-width="3.6" stroke-linejoin="round" stroke-linecap="round"/>
<path d="M442.9,184.7 L455.7,185.6 L455.7,197.5 L443.3,198.4Z" fill="#8dd0bd" stroke="#8dd0bd" stroke-width="3.0" stroke-linejoin="round" opacity="0.45"/>
<path d="M444.2,186.1 L454.4,186.8 L454.4,196.3 L444.5,197.0Z" fill="url(#gTe)" stroke="url(#gTe)" stroke-width="3" stroke-linejoin="round"/>
<path d="M442.9,184.7 L455.7,185.6 L455.7,197.5" fill="none" stroke="#2a2926" stroke-width="1.4" stroke-linecap="round" stroke-linejoin="round"/>
<path d="M442.9,184.7 Q443.0,197.4 444.8,197.9" fill="none" stroke="#2a2926" stroke-width="1.7" stroke-linecap="round" stroke-linejoin="round"/>
<path d="M443.9,199.0 L449.7,198.6 L455.6,198.2 L455.4,195.6 L449.6,195.8 L443.7,196.0Z" fill="#2a2926"/>
<circle cx="443.8" cy="197.5" r="1.50" fill="#2a2926"/>
<circle cx="455.5" cy="196.9" r="1.27" fill="#2a2926"/>
<path d="M442,181.9 L460.3,205.7 M464.9,177.3 L442,205.7" fill="none" stroke="#f2694a" stroke-width="1.5" stroke-linecap="round" stroke-linejoin="round"/>
<path d="M472.8,206.8 L472.2,196.6 L485.0,195.6 L487.4,207.5" fill="none" stroke="#ffffff" stroke-opacity="0.6" stroke-width="3.6" stroke-linejoin="round" stroke-linecap="round"/>
<path d="M472.2,196.6 L485.0,195.6 L487.4,207.5 L472.8,208.8Z" fill="#8dd0bd" stroke="#8dd0bd" stroke-width="3.0" stroke-linejoin="round" opacity="0.45"/>
<path d="M473.6,197.7 L483.9,196.9 L485.8,206.4 L474.1,207.5Z" fill="url(#gTe)" stroke="url(#gTe)" stroke-width="3" stroke-linejoin="round"/>
<path d="M472.2,196.6 L485.0,195.6 L487.4,207.5" fill="none" stroke="#2a2926" stroke-width="1.4" stroke-linecap="round" stroke-linejoin="round"/>
<path d="M472.2,196.6 Q472.4,207.8 474.3,208.3" fill="none" stroke="#2a2926" stroke-width="1.7" stroke-linecap="round" stroke-linejoin="round"/>
<path d="M473.4,209.4 L480.3,208.8 L487.3,208.2 L487.1,205.6 L480.1,206.0 L473.2,206.4Z" fill="#2a2926"/>
<circle cx="473.3" cy="207.9" r="1.50" fill="#2a2926"/>
<circle cx="487.2" cy="206.9" r="1.27" fill="#2a2926"/>
<path d="M506.2,215.5 L505.2,203.0 L516.2,201.1 L521.6,214.9" fill="none" stroke="#ffffff" stroke-opacity="0.6" stroke-width="3.6" stroke-linejoin="round" stroke-linecap="round"/>
<path d="M505.2,203.0 L516.2,201.1 L521.6,214.9 L506.2,217.5Z" fill="#f8e8d2" stroke="#f8e8d2" stroke-width="3.0" stroke-linejoin="round" opacity="0.45"/>
<path d="M506.6,204.2 L515.4,202.7 L519.7,213.7 L507.4,215.8Z" fill="url(#gPe)" stroke="url(#gPe)" stroke-width="3" stroke-linejoin="round"/>
<path d="M505.2,203.0 L516.2,201.1 L521.6,214.9" fill="none" stroke="#2a2926" stroke-width="1.4" stroke-linecap="round" stroke-linejoin="round"/>
<path d="M505.2,203.0 Q505.5,216.5 507.7,217.0" fill="none" stroke="#2a2926" stroke-width="1.7" stroke-linecap="round" stroke-linejoin="round"/>
<path d="M507.0,218.1 L514.3,216.8 L521.6,215.6 L521.2,213.0 L513.9,214.1 L506.5,215.1Z" fill="#2a2926"/>
<circle cx="506.7" cy="216.6" r="1.50" fill="#2a2926"/>
<circle cx="521.4" cy="214.3" r="1.27" fill="#2a2926"/>
<path d="M451.9,226.6 L451.0,211.8 L460.3,211.8 L461.2,227.7" fill="none" stroke="#ffffff" stroke-opacity="0.6" stroke-width="3.6" stroke-linejoin="round" stroke-linecap="round"/>
<path d="M451.0,211.8 L460.3,211.8 L461.2,227.7 L451.9,228.6Z" fill="#f8e8d2" stroke="#f8e8d2" stroke-width="3.0" stroke-linejoin="round" opacity="0.45"/>
<path d="M452.0,213.4 L459.5,213.4 L460.2,226.2 L452.7,226.9Z" fill="url(#gPe)" stroke="url(#gPe)" stroke-width="3" stroke-linejoin="round"/>
<path d="M451.0,211.8 L460.3,211.8 L461.2,227.7" fill="none" stroke="#2a2926" stroke-width="1.4" stroke-linecap="round" stroke-linejoin="round"/>
<path d="M451.0,211.8 Q451.3,227.6 453.4,228.1" fill="none" stroke="#2a2926" stroke-width="1.7" stroke-linecap="round" stroke-linejoin="round"/>
<path d="M452.5,229.2 L456.8,228.8 L461.1,228.4 L460.9,225.8 L456.6,226.0 L452.3,226.2Z" fill="#2a2926"/>
<circle cx="452.4" cy="227.7" r="1.50" fill="#2a2926"/>
<circle cx="461.0" cy="227.1" r="1.27" fill="#2a2926"/>
<path d="M480.6,236.2 L480.0,224.0 L491.4,222.2 L493.3,235.0" fill="none" stroke="#ffffff" stroke-opacity="0.6" stroke-width="3.6" stroke-linejoin="round" stroke-linecap="round"/>
<path d="M480.0,224.0 L491.4,222.2 L493.3,235.0 L480.6,238.2Z" fill="#8dd0bd" stroke="#8dd0bd" stroke-width="3.0" stroke-linejoin="round" opacity="0.45"/>
<path d="M481.3,225.2 L490.4,223.7 L491.9,234.0 L481.8,236.5Z" fill="url(#gTe)" stroke="url(#gTe)" stroke-width="3" stroke-linejoin="round"/>
<path d="M480.0,224.0 L491.4,222.2 L493.3,235.0" fill="none" stroke="#2a2926" stroke-width="1.4" stroke-linecap="round" stroke-linejoin="round"/>
<path d="M480.0,224.0 Q480.2,237.2 482.1,237.7" fill="none" stroke="#2a2926" stroke-width="1.7" stroke-linecap="round" stroke-linejoin="round"/>
<path d="M481.5,238.8 L487.4,237.2 L493.4,235.6 L492.8,233.2 L486.8,234.5 L480.8,235.8Z" fill="#2a2926"/>
<circle cx="481.1" cy="237.3" r="1.50" fill="#2a2926"/>
<circle cx="493.1" cy="234.4" r="1.27" fill="#2a2926"/>
<path d="M479.5,219.5 L500.6,246.9 M495,223 L477.7,246" fill="none" stroke="#f2694a" stroke-width="1.5" stroke-linecap="round" stroke-linejoin="round"/>
<path d="M535.5,232.1 L533.5,218.5 L547.3,214.9 L550.0,233.2" fill="none" stroke="#ffffff" stroke-opacity="0.6" stroke-width="3.6" stroke-linejoin="round" stroke-linecap="round"/>
<path d="M533.5,218.5 L547.3,214.9 L550.0,233.2 L535.5,234.1Z" fill="#f8e8d2" stroke="#f8e8d2" stroke-width="3.0" stroke-linejoin="round" opacity="0.45"/>
<path d="M535.1,219.8 L546.2,217.0 L548.3,231.6 L536.7,232.3Z" fill="url(#gPe)" stroke="url(#gPe)" stroke-width="3" stroke-linejoin="round"/>
<path d="M533.5,218.5 L547.3,214.9 L550.0,233.2" fill="none" stroke="#2a2926" stroke-width="1.4" stroke-linecap="round" stroke-linejoin="round"/>
<path d="M533.5,218.5 Q534.1,233.1 537.0,233.6" fill="none" stroke="#2a2926" stroke-width="1.7" stroke-linecap="round" stroke-linejoin="round"/>
<path d="M536.1,234.7 L543.0,234.3 L549.9,233.9 L549.7,231.3 L542.9,231.5 L536.0,231.7Z" fill="#2a2926"/>
<circle cx="536.0" cy="233.2" r="1.50" fill="#2a2926"/>
<circle cx="549.8" cy="232.6" r="1.27" fill="#2a2926"/>
<path d="M515.2,253.2 L513.4,239.6 L525.3,239.2 L528.0,253.3" fill="none" stroke="#ffffff" stroke-opacity="0.6" stroke-width="3.6" stroke-linejoin="round" stroke-linecap="round"/>
<path d="M513.4,239.6 L525.3,239.2 L528.0,253.3 L515.2,255.2Z" fill="#8dd0bd" stroke="#8dd0bd" stroke-width="3.0" stroke-linejoin="round" opacity="0.45"/>
<path d="M514.8,241.0 L524.3,240.7 L526.5,252.0 L516.3,253.5Z" fill="url(#gTe)" stroke="url(#gTe)" stroke-width="3" stroke-linejoin="round"/>
<path d="M513.4,239.6 L525.3,239.2 L528.0,253.3" fill="none" stroke="#2a2926" stroke-width="1.4" stroke-linecap="round" stroke-linejoin="round"/>
<path d="M513.4,239.6 Q514.0,254.2 516.7,254.7" fill="none" stroke="#2a2926" stroke-width="1.7" stroke-linecap="round" stroke-linejoin="round"/>
<path d="M515.9,255.8 L522.0,254.9 L528.0,254.0 L527.6,251.4 L521.6,252.1 L515.5,252.8Z" fill="#2a2926"/>
<circle cx="515.7" cy="254.3" r="1.50" fill="#2a2926"/>
<circle cx="527.8" cy="252.7" r="1.27" fill="#2a2926"/>
<path d="M457.0,261.4 L455.7,245.0 L468.5,246.0 L471.3,261.6" fill="none" stroke="#ffffff" stroke-opacity="0.6" stroke-width="3.6" stroke-linejoin="round" stroke-linecap="round"/>
<path d="M455.7,245.0 L468.5,246.0 L471.3,261.6 L457.0,263.4Z" fill="#f8e8d2" stroke="#f8e8d2" stroke-width="3.0" stroke-linejoin="round" opacity="0.45"/>
<path d="M457.2,246.8 L467.4,247.6 L469.7,260.1 L458.2,261.5Z" fill="url(#gPe)" stroke="url(#gPe)" stroke-width="3" stroke-linejoin="round"/>
<path d="M455.7,245.0 L468.5,246.0 L471.3,261.6" fill="none" stroke="#2a2926" stroke-width="1.4" stroke-linecap="round" stroke-linejoin="round"/>
<path d="M455.7,245.0 Q456.1,262.4 458.5,262.9" fill="none" stroke="#2a2926" stroke-width="1.7" stroke-linecap="round" stroke-linejoin="round"/>
<path d="M457.6,264.0 L464.4,263.1 L471.2,262.3 L471.0,259.7 L464.1,260.4 L457.3,261.0Z" fill="#2a2926"/>
<circle cx="457.5" cy="262.5" r="1.50" fill="#2a2926"/>
<circle cx="471.1" cy="261.0" r="1.27" fill="#2a2926"/>
<path d="M455.7,244.2 L475.9,272.6 M469.5,247 L454.8,271.6" fill="none" stroke="#f2694a" stroke-width="1.5" stroke-linecap="round" stroke-linejoin="round"/>
<path d="M486.7,264.2 L485.0,249.7 L498.8,250.6 L501.5,267.0" fill="none" stroke="#ffffff" stroke-opacity="0.6" stroke-width="3.6" stroke-linejoin="round" stroke-linecap="round"/>
<path d="M485.0,249.7 L498.8,250.6 L501.5,267.0 L486.7,266.2Z" fill="#f8e8d2" stroke="#f8e8d2" stroke-width="3.0" stroke-linejoin="round" opacity="0.45"/>
<path d="M486.6,251.4 L497.6,252.2 L499.8,265.3 L487.9,264.6Z" fill="url(#gPe)" stroke="url(#gPe)" stroke-width="3" stroke-linejoin="round"/>
<path d="M485.0,249.7 L498.8,250.6 L501.5,267.0" fill="none" stroke="#2a2926" stroke-width="1.4" stroke-linecap="round" stroke-linejoin="round"/>
<path d="M485.0,249.7 Q485.5,265.2 488.2,265.7" fill="none" stroke="#2a2926" stroke-width="1.7" stroke-linecap="round" stroke-linejoin="round"/>
<path d="M487.0,266.8 L494.1,267.2 L501.2,267.7 L501.4,265.1 L494.3,264.5 L487.3,263.8Z" fill="#2a2926"/>
<circle cx="487.2" cy="265.3" r="1.50" fill="#2a2926"/>
<circle cx="501.3" cy="266.4" r="1.27" fill="#2a2926"/>
<path d="M486,249.7 L501.5,268.9 M500.6,250.6 L486,275.3" fill="none" stroke="#f2694a" stroke-width="1.5" stroke-linecap="round" stroke-linejoin="round"/>
<text x="585.0" y="214.3" font-size="24.1" textLength="77.8" lengthAdjust="spacingAndGlyphs" fill="#edb24a" font-weight="normal" stroke="#edb24a" stroke-width="0.45" stroke-linejoin="round" >ACTUAL</text>
<text x="677.9" y="214.2" font-size="23.9" textLength="83.6" lengthAdjust="spacingAndGlyphs" fill="#edb24a" font-weight="normal" stroke="#edb24a" stroke-width="0.58" stroke-linejoin="round" >OUTPUTS</text>
<text x="599.7" y="240.7" font-size="23.9" textLength="54.4" lengthAdjust="spacingAndGlyphs" fill="#edb24a" font-weight="normal" stroke="#edb24a" stroke-width="0.57" stroke-linejoin="round" >GIVEN</text>
<text x="666.9" y="240.7" font-size="24.0" textLength="90.9" lengthAdjust="spacingAndGlyphs" fill="#edb24a" font-weight="normal" stroke="#edb24a" stroke-width="0.52" stroke-linejoin="round" >CURRENT</text>
<text x="622.9" y="267.2" font-size="22.4" textLength="82.4" lengthAdjust="spacingAndGlyphs" fill="#edb24a" font-weight="normal" stroke="#edb24a" stroke-width="0.57" stroke-linejoin="round" >WEIGHTS</text>
<text x="49.5" y="238.8" font-size="32.8" textLength="124.8" lengthAdjust="spacingAndGlyphs" fill="#b8b6b0" font-weight="normal" stroke="#b8b6b0" stroke-width="0.43" stroke-linejoin="round" >FORWARD</text>
<path d="M62.2,252.1 L63.0,252.3 L63.9,252.7 L64.8,253.1 L66.0,253.5 L67.3,254.0 L69.0,254.5 L71.1,254.9 L73.5,255.2 L76.5,255.4 L80.0,255.4 L84.3,255.3 L89.3,255.1 L94.9,254.8 L100.9,254.4 L107.3,253.9 L113.8,253.4 L120.3,252.9 L126.6,252.5 L132.6,252.2 L138.1,252.0 L143.3,251.9 L148.6,251.8 L153.9,251.8 L159.0,251.9 L164.0,252.0 L168.9,252.1 L173.4,252.2 L177.7,252.4 L181.5,252.5 L185.0,252.6 L187.9,252.7 L190.5,252.8 L192.7,252.9 L194.6,253.1 L196.3,253.2 L197.7,253.3 L198.9,253.5 L199.9,253.6 L200.9,253.7 L201.8,253.8 L202.2,247.8 L201.3,247.8 L200.4,247.8 L199.3,247.7 L198.1,247.7 L196.6,247.6 L194.9,247.5 L193.0,247.5 L190.7,247.4 L188.0,247.4 L185.0,247.4 L181.6,247.4 L177.7,247.4 L173.5,247.4 L168.9,247.4 L164.1,247.4 L159.0,247.4 L153.8,247.5 L148.5,247.6 L143.2,247.8 L137.9,248.0 L132.3,248.4 L126.3,249.0 L120.0,249.6 L113.5,250.3 L107.0,251.0 L100.7,251.7 L94.7,252.3 L89.1,252.9 L84.2,253.3 L80.0,253.6 L76.5,253.6 L73.7,253.5 L71.3,253.3 L69.3,253.0 L67.7,252.7 L66.4,252.3 L65.3,251.9 L64.3,251.6 L63.3,251.3 L62.4,251.1Z" fill="#b8b6b0"/>
<circle cx="202.0" cy="250.8" r="3.00" fill="#b8b6b0"/>
<path d="M193.9,242.5 L194.0,242.7 L194.1,243.0 L194.2,243.3 L194.3,243.7 L194.5,244.1 L194.6,244.5 L194.8,245.0 L194.9,245.4 L195.1,245.9 L195.3,246.3 L195.4,246.8 L195.7,247.3 L195.9,247.8 L196.1,248.4 L196.3,248.9 L196.6,249.5 L196.8,250.0 L197.0,250.4 L197.1,250.8 L197.2,251.1 L199.2,250.1 L199.0,249.9 L198.8,249.5 L198.6,249.1 L198.3,248.6 L198.0,248.1 L197.8,247.6 L197.5,247.1 L197.2,246.6 L197.0,246.1 L196.7,245.7 L196.5,245.3 L196.3,244.9 L196.1,244.4 L195.9,244.0 L195.8,243.6 L195.6,243.2 L195.4,242.9 L195.3,242.6 L195.2,242.3 L195.1,242.1Z" fill="#b8b6b0"/>
<circle cx="198.2" cy="250.6" r="1.10" fill="#b8b6b0"/>
<path d="M199.5,253.9 L199.9,254.1 L200.4,254.5 L200.9,254.9 L201.6,255.4 L202.3,255.9 L203.1,256.4 L203.9,256.9 L204.6,257.5 L205.4,258.0 L206.1,258.4 L206.8,258.9 L207.6,259.4 L208.4,259.8 L209.2,260.3 L209.9,260.8 L210.7,261.2 L211.4,261.6 L212.0,262.0 L212.5,262.3 L212.9,262.6 L214.7,259.4 L214.3,259.2 L213.8,258.9 L213.1,258.6 L212.4,258.2 L211.7,257.8 L210.9,257.3 L210.1,256.9 L209.3,256.4 L208.6,256.0 L207.9,255.6 L207.2,255.1 L206.4,254.7 L205.7,254.2 L204.9,253.7 L204.1,253.2 L203.4,252.7 L202.7,252.3 L202.1,251.9 L201.5,251.6 L201.1,251.3Z" fill="#b8b6b0"/>
<circle cx="200.3" cy="252.6" r="1.50" fill="#b8b6b0"/>
<circle cx="213.8" cy="261.0" r="1.80" fill="#b8b6b0"/>
<path d="M213.2,259.3 L212.7,259.4 L212.0,259.6 L211.2,259.8 L210.3,260.1 L209.3,260.4 L208.3,260.7 L207.2,261.0 L206.2,261.3 L205.2,261.6 L204.3,261.9 L203.3,262.2 L202.3,262.5 L201.2,262.8 L200.2,263.2 L199.1,263.5 L198.1,263.8 L197.2,264.1 L196.4,264.4 L195.7,264.6 L195.1,264.8 L196.9,269.6 L197.4,269.4 L198.1,269.1 L198.9,268.8 L199.8,268.5 L200.8,268.1 L201.8,267.7 L202.8,267.3 L203.8,266.9 L204.8,266.5 L205.7,266.1 L206.6,265.8 L207.6,265.4 L208.6,265.0 L209.6,264.6 L210.6,264.2 L211.6,263.8 L212.4,263.5 L213.2,263.2 L213.9,262.9 L214.4,262.7Z" fill="#b8b6b0"/>
<circle cx="213.8" cy="261.0" r="1.80" fill="#b8b6b0"/>
<circle cx="196.0" cy="267.2" r="2.60" fill="#b8b6b0"/>
<path d="M292.5,287.4 L292.4,286.7 L292.4,285.8 L292.3,284.8 L292.2,283.6 L292.1,282.3 L292.1,281.0 L292.0,279.6 L291.9,278.3 L291.9,277.1 L291.8,276.0 L291.7,274.9 L291.7,273.7 L291.7,272.6 L291.6,271.4 L291.6,270.3 L291.6,269.2 L291.6,268.2 L291.6,267.3 L291.5,266.6 L291.5,266.0 L289.5,266.0 L289.5,266.6 L289.4,267.3 L289.4,268.2 L289.4,269.2 L289.3,270.3 L289.3,271.4 L289.3,272.6 L289.2,273.8 L289.2,274.9 L289.2,276.0 L289.2,277.2 L289.2,278.4 L289.3,279.8 L289.3,281.1 L289.4,282.4 L289.4,283.7 L289.4,284.9 L289.5,286.0 L289.5,286.9 L289.5,287.6Z" fill="#5fb0d3"/>
<circle cx="291.0" cy="287.5" r="1.50" fill="#5fb0d3"/>
<circle cx="290.5" cy="266.0" r="1.00" fill="#5fb0d3"/>
<path d="M285.5,273.5 L290.5,265 L296.5,273" fill="none" stroke="#5fb0d3" stroke-width="2.3" stroke-linecap="round" stroke-linejoin="round"/>
<path d="M340.0,284.1 L340.0,283.6 L340.0,282.9 L340.1,282.0 L340.1,281.1 L340.1,280.1 L340.2,279.0 L340.2,278.0 L340.3,276.9 L340.3,276.0 L340.3,275.0 L340.3,274.1 L340.3,273.2 L340.2,272.3 L340.2,271.3 L340.2,270.4 L340.1,269.6 L340.1,268.8 L340.1,268.1 L340.0,267.5 L340.0,267.0 L338.0,267.0 L338.0,267.5 L337.9,268.1 L337.9,268.8 L337.9,269.6 L337.9,270.4 L337.9,271.3 L337.8,272.3 L337.8,273.2 L337.8,274.1 L337.7,275.0 L337.6,275.8 L337.6,276.8 L337.5,277.8 L337.4,278.9 L337.4,279.9 L337.3,280.9 L337.2,281.8 L337.1,282.7 L337.1,283.4 L337.0,283.9Z" fill="#5fb0d3"/>
<circle cx="338.5" cy="284.0" r="1.50" fill="#5fb0d3"/>
<circle cx="339.0" cy="267.0" r="1.00" fill="#5fb0d3"/>
<path d="M334,275.5 L339,266 L345.5,274" fill="none" stroke="#5fb0d3" stroke-width="2.3" stroke-linecap="round" stroke-linejoin="round"/>
<path d="M385.7,284.0 L385.7,282.9 L385.7,281.5 L385.7,279.7 L385.7,277.8 L385.8,275.7 L385.8,273.6 L385.8,271.3 L385.9,269.1 L385.9,267.0 L385.9,265.0 L385.9,263.1 L385.9,260.9 L386.0,258.7 L386.0,256.5 L386.0,254.3 L386.1,252.3 L386.1,250.3 L386.1,248.6 L386.1,247.2 L386.1,246.0 L383.9,246.0 L383.8,247.1 L383.8,248.6 L383.7,250.3 L383.6,252.2 L383.5,254.3 L383.4,256.5 L383.4,258.7 L383.3,260.9 L383.2,263.0 L383.1,265.0 L383.0,266.9 L382.9,269.1 L382.8,271.3 L382.8,273.5 L382.7,275.6 L382.6,277.7 L382.5,279.7 L382.4,281.4 L382.4,282.8 L382.3,284.0Z" fill="#5fb0d3"/>
<circle cx="384.0" cy="284.0" r="1.70" fill="#5fb0d3"/>
<circle cx="385.0" cy="246.0" r="1.10" fill="#5fb0d3"/>
<path d="M378.5,258 L385,245.5 L392,259" fill="none" stroke="#5fb0d3" stroke-width="2.4" stroke-linecap="round" stroke-linejoin="round"/>
<path d="M490.2,304.5 L490.2,303.8 L490.2,303.0 L490.2,301.9 L490.2,300.8 L490.2,299.5 L490.2,298.2 L490.2,296.9 L490.2,295.5 L490.2,294.2 L490.2,293.0 L490.3,291.8 L490.3,290.5 L490.3,289.1 L490.3,287.7 L490.3,286.3 L490.4,285.0 L490.4,283.8 L490.4,282.7 L490.4,281.7 L490.4,281.0 L488.8,281.0 L488.8,281.7 L488.7,282.6 L488.6,283.7 L488.6,284.9 L488.5,286.2 L488.4,287.6 L488.3,289.0 L488.3,290.4 L488.2,291.7 L488.2,293.0 L488.1,294.2 L488.1,295.5 L488.0,296.8 L488.0,298.2 L488.0,299.5 L487.9,300.7 L487.9,301.9 L487.9,302.9 L487.8,303.8 L487.8,304.5Z" fill="#f2694a"/>
<circle cx="489.0" cy="304.5" r="1.20" fill="#f2694a"/>
<circle cx="489.6" cy="281.0" r="0.80" fill="#f2694a"/>
<path d="M484.7,288.4 L490.5,278.6" fill="none" stroke="#f2694a" stroke-width="1.4" stroke-linecap="round" stroke-linejoin="round"/>
<path d="M489.8,279.0 L489.9,279.3 L490.0,279.5 L490.2,279.9 L490.4,280.2 L490.6,280.6 L490.7,281.0 L490.9,281.4 L491.1,281.7 L491.2,282.1 L491.3,282.4 L491.4,282.8 L491.4,283.2 L491.5,283.7 L491.6,284.2 L491.6,284.7 L491.7,285.3 L491.7,285.7 L491.8,286.2 L491.8,286.6 L491.8,286.9 L495.0,286.3 L494.9,286.1 L494.8,285.7 L494.7,285.3 L494.6,284.8 L494.5,284.3 L494.4,283.7 L494.2,283.2 L494.1,282.6 L493.9,282.1 L493.7,281.6 L493.5,281.1 L493.2,280.6 L492.9,280.2 L492.6,279.8 L492.3,279.4 L492.0,279.1 L491.8,278.8 L491.5,278.5 L491.3,278.3 L491.2,278.2Z" fill="#f2694a"/>
<circle cx="490.5" cy="278.6" r="0.80" fill="#f2694a"/>
<circle cx="493.4" cy="286.6" r="1.60" fill="#f2694a"/>
<text x="263.1" y="306.1" font-size="22.9" textLength="65.8" lengthAdjust="spacingAndGlyphs" fill="#5fb0d3" font-weight="normal" stroke="#5fb0d3" stroke-width="0.22" stroke-linejoin="round" >CHANGE</text>
<text x="342.1" y="308.2" font-size="22.8" textLength="65.7" lengthAdjust="spacingAndGlyphs" fill="#5fb0d3" font-weight="normal" stroke="#5fb0d3" stroke-width="0.29" stroke-linejoin="round" >WEIGHTS</text>
<text x="415.1" y="304.4" font-size="16.3" textLength="19.7" lengthAdjust="spacingAndGlyphs" fill="#5fb0d3" font-weight="normal" stroke="#5fb0d3" stroke-width="0.27" stroke-linejoin="round" >TO</text>
<text x="262.1" y="331.6" font-size="22.9" textLength="84.4" lengthAdjust="spacingAndGlyphs" fill="#5fb0d3" font-weight="normal" stroke="#5fb0d3" stroke-width="0.22" stroke-linejoin="round" >DECREASE</text>
<text x="357.2" y="330.4" font-size="18.0" textLength="51.9" lengthAdjust="spacingAndGlyphs" fill="#5fb0d3" font-weight="normal" stroke="#5fb0d3" stroke-width="0.4" stroke-linejoin="round" >ERRORS</text>
<path d="M420.5,322.6 L421.1,322.6 L421.7,322.6 L422.5,322.5 L423.3,322.5 L424.2,322.4 L425.2,322.3 L426.3,322.3 L427.3,322.2 L428.4,322.1 L429.4,322.0 L430.5,321.9 L431.7,321.8 L433.0,321.7 L434.3,321.5 L435.6,321.4 L436.8,321.3 L438.0,321.2 L439.2,321.1 L440.2,321.1 L441.1,321.1 L441.8,321.2 L442.4,321.3 L443.1,321.4 L443.6,321.6 L444.2,321.8 L444.7,322.0 L445.1,322.2 L445.6,322.4 L446.0,322.6 L446.4,322.7 L447.6,318.3 L447.3,318.3 L447.0,318.2 L446.5,318.1 L445.9,318.0 L445.3,317.8 L444.6,317.7 L443.7,317.6 L442.9,317.5 L441.9,317.5 L440.9,317.5 L439.9,317.7 L438.8,317.9 L437.6,318.1 L436.4,318.4 L435.1,318.7 L433.8,319.0 L432.6,319.4 L431.4,319.7 L430.2,320.0 L429.2,320.2 L428.1,320.4 L427.1,320.6 L426.1,320.8 L425.1,320.9 L424.1,321.1 L423.2,321.3 L422.3,321.4 L421.6,321.6 L421.0,321.7 L420.5,321.8Z" fill="#2a2926"/>
<circle cx="447.0" cy="320.5" r="2.30" fill="#2a2926"/>
<path d="M424.2,315.9 L423.7,316.1 L423.1,316.5 L422.5,316.9 L421.7,317.3 L420.8,317.8 L420.0,318.3 L419.1,318.8 L418.2,319.3 L417.3,319.8 L416.6,320.3 L415.8,320.8 L415.0,321.4 L414.1,322.0 L413.3,322.6 L412.4,323.2 L411.7,323.7 L410.9,324.3 L410.3,324.7 L409.7,325.1 L409.3,325.4 L410.5,327.0 L410.9,326.7 L411.4,326.3 L412.1,325.8 L412.8,325.2 L413.5,324.6 L414.3,324.0 L415.1,323.4 L415.9,322.8 L416.7,322.2 L417.4,321.7 L418.2,321.1 L419.0,320.6 L419.8,320.1 L420.7,319.5 L421.6,319.0 L422.4,318.5 L423.1,318.0 L423.8,317.6 L424.4,317.2 L424.8,316.9Z" fill="#2a2926"/>
<circle cx="409.9" cy="326.2" r="1.00" fill="#2a2926"/>
<path d="M409.3,327.0 L409.6,327.2 L409.9,327.5 L410.4,327.9 L410.9,328.3 L411.4,328.7 L412.0,329.2 L412.6,329.7 L413.2,330.1 L413.8,330.6 L414.3,331.0 L414.9,331.4 L415.6,331.8 L416.2,332.3 L416.9,332.7 L417.6,333.2 L418.3,333.6 L418.9,333.9 L419.4,334.3 L419.8,334.6 L420.2,334.8 L421.6,332.4 L421.3,332.2 L420.8,331.9 L420.2,331.6 L419.6,331.3 L418.9,330.9 L418.2,330.5 L417.6,330.1 L416.9,329.7 L416.2,329.4 L415.7,329.0 L415.1,328.6 L414.5,328.3 L413.9,327.8 L413.3,327.4 L412.7,327.0 L412.2,326.6 L411.7,326.2 L411.2,325.9 L410.8,325.6 L410.5,325.4Z" fill="#2a2926"/>
<circle cx="409.9" cy="326.2" r="1.00" fill="#2a2926"/>
<circle cx="420.9" cy="333.6" r="1.40" fill="#2a2926"/>
<text x="464.6" y="329.7" font-size="21.6" textLength="61.1" lengthAdjust="spacingAndGlyphs" fill="#f2694a" font-weight="normal" stroke="#f2694a" stroke-width="0.64" stroke-linejoin="round" >ERRORS</text>
<text x="541.0" y="329.8" font-size="32.4" textLength="11.0" lengthAdjust="spacingAndGlyphs" fill="#f2694a" font-weight="normal" >(</text>
<text x="550.1" y="331.4" font-size="24.3" textLength="42.6" lengthAdjust="spacingAndGlyphs" fill="#f2694a" font-weight="normal" stroke="#f2694a" stroke-width="0.3" stroke-linejoin="round" >LOSS</text>
<text x="602.5" y="331.4" font-size="24.3" textLength="83.8" lengthAdjust="spacingAndGlyphs" fill="#f2694a" font-weight="normal" stroke="#f2694a" stroke-width="0.29" stroke-linejoin="round" >FUNCTION</text>
<text x="689.0" y="331.0" font-size="34.0" textLength="12.0" lengthAdjust="spacingAndGlyphs" fill="#f2694a" font-weight="normal" >)</text>
<path d="M288.0,353.5 L288.5,354.4 L289.3,355.6 L290.2,356.9 L291.3,358.5 L292.4,360.1 L293.4,361.8 L294.3,363.5 L295.1,365.1 L295.5,366.7 L295.7,368.0 L295.6,369.3 L295.2,370.5 L294.7,371.7 L294.0,372.9 L293.1,374.1 L292.2,375.3 L291.2,376.5 L290.1,377.7 L289.0,378.9 L287.8,380.1 L286.7,381.3 L285.5,382.5 L284.3,383.7 L283.0,384.9 L281.6,386.0 L280.3,387.2 L278.8,388.2 L277.3,389.2 L275.7,390.1 L274.0,391.0 L272.2,391.7 L270.2,392.5 L268.0,393.2 L265.8,393.8 L263.5,394.4 L261.1,394.9 L258.9,395.4 L256.7,395.7 L254.7,396.0 L253.0,396.2 L251.4,396.4 L250.0,396.4 L248.7,396.4 L247.6,396.3 L246.4,396.1 L245.4,395.9 L244.3,395.6 L243.2,395.2 L242.0,394.8 L240.8,394.4 L239.6,393.9 L238.4,393.4 L237.2,392.7 L236.0,392.0 L234.7,391.3 L233.5,390.5 L232.2,389.6 L230.9,388.7 L229.5,387.8 L228.1,386.8 L226.7,385.8 L225.2,384.8 L223.6,383.6 L222.0,382.5 L220.4,381.3 L218.8,380.0 L217.3,378.8 L215.7,377.6 L214.2,376.4 L212.7,375.2 L211.2,374.0 L209.7,372.8 L208.3,371.6 L206.8,370.4 L205.4,369.2 L204.0,368.0 L202.7,366.8 L201.5,365.6 L200.3,364.5 L199.2,363.5 L198.2,362.4 L197.3,361.4 L196.4,360.5 L195.6,359.5 L194.9,358.6 L194.2,357.8 L193.5,356.9 L192.9,356.0 L192.4,355.1 L191.9,354.2 L191.4,353.4 L191.0,352.5 L190.7,351.6 L190.4,350.7 L190.1,349.8 L189.9,348.9 L189.7,348.0 L189.5,347.1 L189.4,346.2 L189.3,345.3 L189.2,344.4 L189.1,343.6 L189.1,342.8 L189.1,342.0 L189.2,341.1 L189.3,340.3 L189.4,339.5 L189.6,338.6 L189.8,337.6 L190.2,336.6 L190.6,335.5 L191.0,334.2 L191.5,333.0 L192.1,331.6 L192.8,330.3 L193.5,328.9 L194.2,327.5 L195.0,326.1 L195.8,324.7 L196.6,323.3 L197.5,322.0 L198.4,320.6 L199.3,319.3 L200.3,317.9 L201.3,316.5 L202.4,315.1 L203.5,313.8 L204.6,312.5 L205.7,311.2 L206.9,309.9 L208.0,308.6 L209.3,307.3 L210.5,306.0 L211.7,304.7 L213.0,303.5 L214.3,302.3 L215.6,301.1 L217.0,300.0 L218.4,299.0 L219.8,298.1 L221.4,297.3 L223.1,296.5 L225.0,295.8 L226.9,295.1 L228.9,294.4 L230.8,293.9 L232.6,293.3 L234.3,292.9 L235.8,292.5 L237.0,292.2 L237.9,292.0 L238.5,291.9 L238.9,291.9 L239.1,291.9 L239.1,291.9 L239.1,291.9 L239.2,291.9 L239.4,292.1 L239.7,292.4 L240.1,292.5 L240.9,290.5 L240.9,290.5 L241.0,290.5 L240.9,290.4 L240.7,290.1 L240.3,289.8 L239.7,289.5 L239.1,289.4 L238.3,289.4 L237.5,289.4 L236.4,289.6 L235.2,289.9 L233.7,290.2 L231.9,290.6 L230.0,291.1 L228.0,291.6 L226.0,292.2 L223.9,292.9 L221.9,293.6 L220.0,294.4 L218.2,295.3 L216.5,296.2 L215.0,297.3 L213.4,298.4 L212.0,299.5 L210.5,300.8 L209.1,302.0 L207.8,303.3 L206.5,304.6 L205.2,305.9 L203.9,307.1 L202.7,308.4 L201.5,309.7 L200.3,311.1 L199.1,312.5 L197.9,313.9 L196.8,315.3 L195.8,316.7 L194.7,318.1 L193.7,319.5 L192.8,320.9 L191.9,322.3 L191.0,323.7 L190.1,325.2 L189.3,326.6 L188.5,328.1 L187.8,329.6 L187.1,331.0 L186.5,332.4 L185.9,333.7 L185.4,335.0 L185.0,336.2 L184.7,337.4 L184.5,338.6 L184.3,339.7 L184.2,340.7 L184.1,341.8 L184.1,342.8 L184.2,343.8 L184.2,344.8 L184.3,345.9 L184.4,346.9 L184.6,348.0 L184.8,349.1 L185.1,350.1 L185.4,351.2 L185.8,352.3 L186.2,353.4 L186.6,354.4 L187.1,355.5 L187.7,356.6 L188.3,357.6 L189.0,358.6 L189.7,359.6 L190.4,360.6 L191.2,361.6 L192.0,362.6 L192.9,363.6 L193.9,364.6 L194.9,365.7 L196.0,366.7 L197.1,367.9 L198.4,369.0 L199.7,370.2 L201.1,371.4 L202.5,372.6 L204.0,373.8 L205.4,375.0 L206.9,376.2 L208.4,377.4 L209.9,378.6 L211.4,379.8 L213.0,381.0 L214.6,382.3 L216.2,383.5 L217.8,384.7 L219.5,385.9 L221.1,387.1 L222.7,388.3 L224.2,389.4 L225.7,390.4 L227.1,391.3 L228.5,392.3 L229.8,393.2 L231.1,394.1 L232.5,394.9 L233.8,395.7 L235.1,396.5 L236.5,397.2 L237.8,397.8 L239.2,398.4 L240.6,398.9 L241.8,399.3 L243.1,399.7 L244.4,400.0 L245.7,400.3 L247.1,400.5 L248.5,400.6 L250.1,400.6 L251.7,400.6 L253.4,400.4 L255.4,400.1 L257.5,399.6 L259.7,399.1 L262.0,398.6 L264.4,397.9 L266.8,397.2 L269.1,396.4 L271.3,395.5 L273.4,394.6 L275.4,393.6 L277.1,392.6 L278.8,391.5 L280.3,390.3 L281.8,389.0 L283.2,387.7 L284.5,386.4 L285.7,385.0 L286.8,383.7 L287.9,382.4 L289.0,381.1 L290.0,379.9 L291.1,378.6 L292.2,377.4 L293.2,376.1 L294.2,374.9 L295.0,373.5 L295.7,372.2 L296.3,370.8 L296.6,369.4 L296.7,368.0 L296.5,366.4 L295.9,364.8 L295.2,363.1 L294.2,361.3 L293.1,359.6 L292.0,358.0 L290.9,356.4 L290.0,355.1 L289.2,354.0 L288.6,353.1Z" fill="#2a2926"/>
<circle cx="240.5" cy="291.5" r="1.10" fill="#2a2926"/>
<path d="M232.2,283.9 L244.6,292" fill="none" stroke="#2a2926" stroke-width="1.3" stroke-linecap="round" stroke-linejoin="round"/>
<path d="M243.6,291.8 L243.3,292.2 L242.9,292.6 L242.5,293.2 L242.0,293.8 L241.5,294.4 L240.9,295.1 L240.3,295.9 L239.8,296.6 L239.2,297.3 L238.6,298.0 L238.0,298.7 L237.3,299.5 L236.6,300.3 L235.9,301.2 L235.1,302.0 L234.4,302.9 L233.7,303.6 L233.1,304.3 L232.6,304.9 L232.2,305.3 L236.2,308.3 L236.5,307.8 L236.9,307.1 L237.4,306.3 L237.9,305.5 L238.5,304.6 L239.1,303.6 L239.7,302.6 L240.3,301.7 L240.9,300.8 L241.4,300.0 L241.9,299.2 L242.4,298.4 L242.9,297.6 L243.4,296.9 L243.8,296.1 L244.3,295.4 L244.7,294.7 L245.1,294.1 L245.4,293.6 L245.6,293.2Z" fill="#2a2926"/>
<circle cx="244.6" cy="292.5" r="1.20" fill="#2a2926"/>
<circle cx="234.2" cy="306.8" r="2.50" fill="#2a2926"/>
<text x="291.0" y="401.4" font-size="29.8" textLength="88.5" lengthAdjust="spacingAndGlyphs" fill="#2a2926" font-weight="normal" stroke="#2a2926" stroke-width="0.48" stroke-linejoin="round" >ITERATE</text>
<text x="472.6" y="432.9" font-size="44.8" textLength="23.8" lengthAdjust="spacingAndGlyphs" fill="#b8b6b0" font-weight="normal" stroke="#b8b6b0" stroke-width="1.2" stroke-linejoin="round" >B</text>
<text x="496.5" y="438.0" font-size="38.6" textLength="130.0" lengthAdjust="spacingAndGlyphs" fill="#b8b6b0" font-weight="normal" stroke="#b8b6b0" stroke-width="0.96" stroke-linejoin="round" >ACKWARD</text>
<path d="M343.2,448.9 L346.5,448.6 L350.7,448.2 L355.6,447.8 L361.0,447.3 L367.0,446.9 L373.3,446.4 L379.9,445.9 L386.7,445.4 L393.4,444.9 L400.1,444.5 L406.7,444.1 L413.2,443.6 L419.8,443.2 L426.6,442.7 L433.6,442.3 L440.9,441.9 L448.6,441.5 L456.8,441.2 L465.6,441.0 L475.0,440.9 L485.8,440.9 L498.2,441.1 L511.7,441.3 L525.9,441.7 L540.2,442.0 L554.1,442.4 L567.1,442.7 L578.8,443.1 L588.6,443.3 L596.0,443.4 L596.0,442.0 L588.6,441.7 L578.8,441.3 L567.2,440.8 L554.1,440.3 L540.2,439.8 L525.9,439.3 L511.8,438.8 L498.2,438.4 L485.8,438.1 L475.0,437.9 L465.5,437.8 L456.7,437.8 L448.5,437.9 L440.8,438.1 L433.4,438.3 L426.4,438.5 L419.6,438.8 L413.0,439.0 L406.4,439.3 L399.9,439.5 L393.2,439.7 L386.4,440.0 L379.6,440.3 L373.0,440.6 L366.6,440.9 L360.6,441.2 L355.1,441.4 L350.2,441.6 L346.1,441.8 L342.8,441.9Z" fill="#b8b6b0"/>
<circle cx="343.0" cy="445.4" r="3.50" fill="#b8b6b0"/>
<circle cx="596.0" cy="442.7" r="0.75" fill="#b8b6b0"/>
<path d="M345.5,433.4 L344.7,433.9 L343.7,434.7 L342.4,435.5 L341.0,436.5 L339.6,437.6 L338.0,438.7 L336.5,439.8 L334.9,440.9 L333.5,441.9 L332.1,442.8 L330.8,443.7 L329.4,444.6 L328.0,445.6 L326.6,446.5 L325.2,447.4 L323.9,448.3 L322.6,449.1 L321.5,449.8 L320.6,450.4 L319.8,450.9 L322.2,454.1 L322.8,453.6 L323.7,452.9 L324.7,452.1 L325.9,451.3 L327.2,450.3 L328.5,449.3 L329.9,448.3 L331.3,447.2 L332.6,446.2 L333.9,445.2 L335.2,444.2 L336.6,443.0 L338.0,441.8 L339.5,440.6 L340.9,439.4 L342.3,438.2 L343.6,437.1 L344.8,436.1 L345.7,435.3 L346.5,434.6Z" fill="#b8b6b0"/>
<circle cx="346.0" cy="434.0" r="0.75" fill="#b8b6b0"/>
<circle cx="321.0" cy="452.5" r="2.00" fill="#b8b6b0"/>
<path d="M320.5,454.4 L321.3,454.7 L322.4,455.0 L323.7,455.3 L325.1,455.7 L326.7,456.2 L328.3,456.6 L329.9,457.0 L331.5,457.4 L333.1,457.8 L334.5,458.2 L335.9,458.5 L337.4,458.9 L338.9,459.2 L340.5,459.5 L341.9,459.8 L343.4,460.1 L344.7,460.4 L345.8,460.6 L346.8,460.8 L347.5,461.0 L348.5,456.0 L347.7,455.9 L346.7,455.8 L345.5,455.6 L344.2,455.4 L342.8,455.1 L341.3,454.9 L339.8,454.6 L338.3,454.3 L336.9,454.1 L335.5,453.8 L334.1,453.5 L332.6,453.2 L331.0,452.8 L329.3,452.4 L327.7,452.0 L326.2,451.7 L324.7,451.3 L323.4,451.0 L322.3,450.8 L321.5,450.6Z" fill="#b8b6b0"/>
<circle cx="321.0" cy="452.5" r="2.00" fill="#b8b6b0"/>
<circle cx="348.0" cy="458.5" r="2.50" fill="#b8b6b0"/>
<path d="M57,474.5 C70,477 85,478 100,478 C160,477 200,475 235,474.5 C330,473 400,473 440,473 C480,472 520,471.7 542,471.7 C580,472 610,474 637,474.4 C660,475 680,476 700,475.8 C730,475 750,474 768,474" fill="none" stroke="#2a2926" stroke-width="1.35" stroke-linecap="round" stroke-linejoin="round"/>
<text x="86.3" y="522.7" font-size="31.1" textLength="44.4" lengthAdjust="spacingAndGlyphs" fill="#edb24a" font-weight="normal" stroke="#edb24a" stroke-width="0.6" stroke-linejoin="round" >NEW</text>
<text x="147.7" y="520.1" font-size="25.8" textLength="62.5" lengthAdjust="spacingAndGlyphs" fill="#edb24a" font-weight="normal" stroke="#edb24a" stroke-width="0.72" stroke-linejoin="round" >INPUTS</text>
<path d="M249.5,513.8 L248.5,496.7 L262.5,496.7 L264.9,517.2" fill="none" stroke="#ffffff" stroke-opacity="0.6" stroke-width="3.6" stroke-linejoin="round" stroke-linecap="round"/>
<path d="M248.5,496.7 L262.5,496.7 L264.9,517.2 L249.5,515.8Z" fill="#f3cd7b" stroke="#f3cd7b" stroke-width="3" stroke-linejoin="round" opacity="0.45"/>
<path d="M249.7,498.2 L261.6,498.2 L263.6,515.6 L250.6,514.4Z" fill="url(#gOr)" stroke="url(#gOr)" stroke-width="3" stroke-linejoin="round"/>
<path d="M248.5,496.7 L262.5,496.7 L264.9,517.2" fill="none" stroke="#2a2926" stroke-width="1.5" stroke-linecap="round" stroke-linejoin="round"/>
<path d="M248.5,496.7 Q248.8,514.8 251.0,515.3" fill="none" stroke="#2a2926" stroke-width="1.8" stroke-linecap="round" stroke-linejoin="round"/>
<path d="M249.8,516.6 L257.1,517.4 L264.5,518.1 L264.9,514.6 L257.6,513.5 L250.3,512.5Z" fill="#2a2926"/>
<circle cx="250.0" cy="514.5" r="2.10" fill="#2a2926"/>
<circle cx="264.7" cy="516.4" r="1.78" fill="#2a2926"/>
<path d="M279.3,525.5 L278.7,507.0 L294.2,509.9 L291.8,529.0" fill="none" stroke="#ffffff" stroke-opacity="0.6" stroke-width="3.6" stroke-linejoin="round" stroke-linecap="round"/>
<path d="M278.7,507.0 L294.2,509.9 L291.8,529.0 L279.3,527.5Z" fill="#f3cd7b" stroke="#f3cd7b" stroke-width="3" stroke-linejoin="round" opacity="0.45"/>
<path d="M279.8,508.7 L293.0,511.2 L290.9,527.4 L280.3,526.1Z" fill="url(#gOr)" stroke="url(#gOr)" stroke-width="3" stroke-linejoin="round"/>
<path d="M278.7,507.0 L294.2,509.9 L291.8,529.0" fill="none" stroke="#2a2926" stroke-width="1.5" stroke-linecap="round" stroke-linejoin="round"/>
<path d="M278.7,507.0 Q278.9,526.5 280.8,527.0" fill="none" stroke="#2a2926" stroke-width="1.8" stroke-linecap="round" stroke-linejoin="round"/>
<path d="M279.5,528.3 L285.4,529.1 L291.3,529.9 L291.9,526.4 L286.0,525.3 L280.2,524.2Z" fill="#2a2926"/>
<circle cx="279.8" cy="526.2" r="2.10" fill="#2a2926"/>
<circle cx="291.6" cy="528.2" r="1.78" fill="#2a2926"/>
<path d="M254.0,544.5 L253.8,529.0 L267.0,531.9 L271.9,548.0" fill="none" stroke="#ffffff" stroke-opacity="0.6" stroke-width="3.6" stroke-linejoin="round" stroke-linecap="round"/>
<path d="M253.8,529.0 L267.0,531.9 L271.9,548.0 L254.0,546.5Z" fill="#f3cd7b" stroke="#f3cd7b" stroke-width="3" stroke-linejoin="round" opacity="0.45"/>
<path d="M255.0,530.5 L266.2,532.9 L270.4,546.6 L255.2,545.4Z" fill="url(#gOr)" stroke="url(#gOr)" stroke-width="3" stroke-linejoin="round"/>
<path d="M253.8,529.0 L267.0,531.9 L271.9,548.0" fill="none" stroke="#2a2926" stroke-width="1.5" stroke-linecap="round" stroke-linejoin="round"/>
<path d="M253.8,529.0 Q253.9,545.5 255.5,546.0" fill="none" stroke="#2a2926" stroke-width="1.8" stroke-linecap="round" stroke-linejoin="round"/>
<path d="M254.3,547.3 L262.9,548.1 L271.5,548.9 L271.9,545.4 L263.3,544.3 L254.8,543.2Z" fill="#2a2926"/>
<circle cx="254.5" cy="545.2" r="2.10" fill="#2a2926"/>
<circle cx="271.7" cy="547.2" r="1.78" fill="#2a2926"/>
<path d="M282.2,558.6 L281.6,542.1 L293.3,540.7 L299.2,559.7" fill="none" stroke="#ffffff" stroke-opacity="0.6" stroke-width="3.6" stroke-linejoin="round" stroke-linecap="round"/>
<path d="M281.6,542.1 L293.3,540.7 L299.2,559.7 L282.2,560.6Z" fill="#f3cd7b" stroke="#f3cd7b" stroke-width="3" stroke-linejoin="round" opacity="0.45"/>
<path d="M282.7,543.4 L292.7,542.2 L297.7,558.4 L283.3,559.1Z" fill="url(#gOr)" stroke="url(#gOr)" stroke-width="3" stroke-linejoin="round"/>
<path d="M281.6,542.1 L293.3,540.7 L299.2,559.7" fill="none" stroke="#2a2926" stroke-width="1.5" stroke-linecap="round" stroke-linejoin="round"/>
<path d="M281.6,542.1 Q281.8,559.6 283.7,560.1" fill="none" stroke="#2a2926" stroke-width="1.8" stroke-linecap="round" stroke-linejoin="round"/>
<path d="M282.8,561.4 L290.9,561.0 L299.1,560.6 L298.9,557.1 L290.8,557.2 L282.7,557.2Z" fill="#2a2926"/>
<circle cx="282.7" cy="559.3" r="2.10" fill="#2a2926"/>
<circle cx="299.0" cy="558.9" r="1.78" fill="#2a2926"/>
<path d="M322.3,530.7 L324.0,530.8 L326.0,530.9 L328.4,531.0 L331.1,531.1 L334.1,531.1 L337.3,531.2 L340.7,531.3 L344.3,531.3 L347.9,531.3 L351.7,531.2 L355.7,531.0 L360.1,530.8 L364.9,530.5 L369.8,530.1 L374.8,529.8 L379.8,529.5 L384.7,529.2 L389.3,529.0 L393.6,528.8 L397.4,528.8 L400.9,528.8 L404.1,528.8 L407.0,528.9 L409.8,529.0 L412.4,529.2 L414.9,529.5 L417.3,529.8 L419.7,530.1 L422.1,530.4 L424.5,530.8 L427.0,531.1 L429.6,531.6 L432.2,532.1 L434.7,532.7 L437.2,533.3 L439.5,533.9 L441.7,534.4 L443.6,534.9 L445.3,535.3 L446.6,535.5 L447.4,532.5 L446.1,532.1 L444.5,531.6 L442.6,531.0 L440.5,530.3 L438.2,529.6 L435.7,528.9 L433.1,528.2 L430.5,527.5 L427.8,526.9 L425.3,526.4 L422.8,526.0 L420.4,525.6 L417.9,525.2 L415.5,524.8 L412.9,524.5 L410.2,524.2 L407.3,523.9 L404.2,523.8 L400.9,523.6 L397.4,523.6 L393.4,523.8 L389.0,524.1 L384.3,524.5 L379.4,524.9 L374.4,525.4 L369.4,525.9 L364.5,526.4 L359.8,526.9 L355.5,527.3 L351.5,527.6 L347.8,527.9 L344.2,528.2 L340.6,528.4 L337.3,528.6 L334.1,528.8 L331.1,528.9 L328.4,529.1 L326.0,529.2 L324.0,529.3 L322.3,529.5Z" fill="#2a2926"/>
<circle cx="447.0" cy="534.0" r="1.60" fill="#2a2926"/>
<path d="M438.6,523.7 L448.7,532.9" fill="none" stroke="#2a2926" stroke-width="1.6" stroke-linecap="round" stroke-linejoin="round"/>
<path d="M445.9,532.9 L446.3,533.4 L446.9,534.0 L447.6,534.7 L448.3,535.5 L449.1,536.3 L449.8,537.1 L450.3,537.9 L450.7,538.6 L450.9,539.0 L450.9,539.1 L450.9,539.1 L450.6,539.3 L450.2,539.7 L449.5,540.1 L448.7,540.5 L447.9,540.9 L446.9,541.3 L446.0,541.6 L445.1,542.0 L444.2,542.4 L443.5,542.7 L442.7,543.0 L441.9,543.2 L441.1,543.5 L440.3,543.7 L439.5,544.0 L438.8,544.2 L438.1,544.3 L437.5,544.5 L437.0,544.6 L438.4,548.6 L438.8,548.4 L439.3,548.2 L439.9,548.0 L440.7,547.7 L441.5,547.4 L442.3,547.1 L443.2,546.8 L444.1,546.4 L445.0,546.0 L445.8,545.6 L446.5,545.2 L447.4,544.8 L448.3,544.4 L449.3,543.9 L450.3,543.4 L451.2,542.9 L452.1,542.2 L452.9,541.5 L453.5,540.7 L453.9,539.5 L453.8,538.3 L453.4,537.2 L452.8,536.2 L452.0,535.3 L451.2,534.4 L450.4,533.5 L449.7,532.7 L449.0,532.0 L448.4,531.5 L448.1,531.1Z" fill="#2a2926"/>
<circle cx="447.0" cy="532.0" r="1.40" fill="#2a2926"/>
<circle cx="437.7" cy="546.6" r="2.10" fill="#2a2926"/>
<path d="M485.4,520.0 L484.6,499.8 L494.7,500.7 L500.8,520.5" fill="none" stroke="#ffffff" stroke-opacity="0.6" stroke-width="3.6" stroke-linejoin="round" stroke-linecap="round"/>
<path d="M484.6,499.8 L494.7,500.7 L500.8,520.5 L485.4,522.0Z" fill="#8dd0bd" stroke="#8dd0bd" stroke-width="2.5" stroke-linejoin="round" opacity="0.45"/>
<path d="M486.0,502.0 L494.0,502.7 L498.9,518.5 L486.6,519.8Z" fill="url(#gTe)" stroke="url(#gTe)" stroke-width="3" stroke-linejoin="round"/>
<path d="M484.6,499.8 L494.7,500.7 L500.8,520.5" fill="none" stroke="#2a2926" stroke-width="2.0" stroke-linecap="round" stroke-linejoin="round"/>
<path d="M484.6,499.8 Q484.8,521.0 486.9,521.5" fill="none" stroke="#2a2926" stroke-width="2.3" stroke-linecap="round" stroke-linejoin="round"/>
<path d="M486.1,522.8 L493.4,522.1 L500.7,521.4 L500.5,518.0 L493.1,518.4 L485.8,518.8Z" fill="#2a2926"/>
<circle cx="485.9" cy="520.8" r="2.00" fill="#2a2926"/>
<circle cx="500.6" cy="519.7" r="1.70" fill="#2a2926"/>
<path d="M517.4,529.2 L516.0,509.8 L531.3,508.3 L532.8,529.7" fill="none" stroke="#ffffff" stroke-opacity="0.6" stroke-width="3.6" stroke-linejoin="round" stroke-linecap="round"/>
<path d="M516.0,509.8 L531.3,508.3 L532.8,529.7 L517.4,531.2Z" fill="#f8e8d2" stroke="#f8e8d2" stroke-width="2.5" stroke-linejoin="round" opacity="0.45"/>
<path d="M517.7,511.8 L529.9,510.6 L531.1,527.7 L518.8,528.9Z" fill="url(#gPe)" stroke="url(#gPe)" stroke-width="3" stroke-linejoin="round"/>
<path d="M516.0,509.8 L531.3,508.3 L532.8,529.7" fill="none" stroke="#2a2926" stroke-width="2.0" stroke-linecap="round" stroke-linejoin="round"/>
<path d="M516.0,509.8 Q516.4,530.2 518.9,530.7" fill="none" stroke="#2a2926" stroke-width="2.3" stroke-linecap="round" stroke-linejoin="round"/>
<path d="M518.0,532.0 L525.4,531.3 L532.7,530.6 L532.5,527.2 L525.1,527.6 L517.7,528.0Z" fill="#2a2926"/>
<circle cx="517.9" cy="530.0" r="2.00" fill="#2a2926"/>
<circle cx="532.6" cy="528.9" r="1.70" fill="#2a2926"/>
<path d="M493.5,552.1 L492.5,536.4 L506.9,535.8 L507.8,553.5" fill="none" stroke="#ffffff" stroke-opacity="0.6" stroke-width="3.6" stroke-linejoin="round" stroke-linecap="round"/>
<path d="M492.5,536.4 L506.9,535.8 L507.8,553.5 L493.5,554.1Z" fill="#f8e8d2" stroke="#f8e8d2" stroke-width="2.5" stroke-linejoin="round" opacity="0.45"/>
<path d="M494.0,538.1 L505.6,537.6 L506.3,551.8 L494.8,552.3Z" fill="url(#gPe)" stroke="url(#gPe)" stroke-width="3" stroke-linejoin="round"/>
<path d="M492.5,536.4 L506.9,535.8 L507.8,553.5" fill="none" stroke="#2a2926" stroke-width="2.0" stroke-linecap="round" stroke-linejoin="round"/>
<path d="M492.5,536.4 Q492.8,553.1 495.0,553.6" fill="none" stroke="#2a2926" stroke-width="2.3" stroke-linecap="round" stroke-linejoin="round"/>
<path d="M494.0,554.9 L500.8,554.6 L507.6,554.4 L507.6,551.0 L500.8,551.0 L494.0,550.9Z" fill="#2a2926"/>
<circle cx="494.0" cy="552.9" r="2.00" fill="#2a2926"/>
<circle cx="507.6" cy="552.7" r="1.70" fill="#2a2926"/>
<path d="M524.4,560.6 L523.7,541.3 L537.4,540.4 L540.5,561.7" fill="none" stroke="#ffffff" stroke-opacity="0.6" stroke-width="3.6" stroke-linejoin="round" stroke-linecap="round"/>
<path d="M523.7,541.3 L537.4,540.4 L540.5,561.7 L524.4,562.6Z" fill="#8dd0bd" stroke="#8dd0bd" stroke-width="2.5" stroke-linejoin="round" opacity="0.45"/>
<path d="M525.3,543.3 L536.2,542.6 L538.7,559.7 L525.8,560.4Z" fill="url(#gTe)" stroke="url(#gTe)" stroke-width="3" stroke-linejoin="round"/>
<path d="M523.7,541.3 L537.4,540.4 L540.5,561.7" fill="none" stroke="#2a2926" stroke-width="2.0" stroke-linecap="round" stroke-linejoin="round"/>
<path d="M523.7,541.3 Q523.9,561.6 525.9,562.1" fill="none" stroke="#2a2926" stroke-width="2.3" stroke-linecap="round" stroke-linejoin="round"/>
<path d="M524.9,563.4 L532.6,563.0 L540.4,562.6 L540.2,559.2 L532.5,559.3 L524.8,559.4Z" fill="#2a2926"/>
<circle cx="524.9" cy="561.4" r="2.00" fill="#2a2926"/>
<circle cx="540.3" cy="560.9" r="1.70" fill="#2a2926"/>
<path d="M523.7,542 L546.6,572.4 M549.6,538.8 L520.6,566" fill="none" stroke="#f2694a" stroke-width="1.5" stroke-linecap="round" stroke-linejoin="round"/>
<text x="574.0" y="532.7" font-size="29.7" textLength="116.8" lengthAdjust="spacingAndGlyphs" fill="#2a2926" font-weight="normal" stroke="#2a2926" stroke-width="0.55" stroke-linejoin="round" >VALIDATION</text>
</svg>
</body></html>
